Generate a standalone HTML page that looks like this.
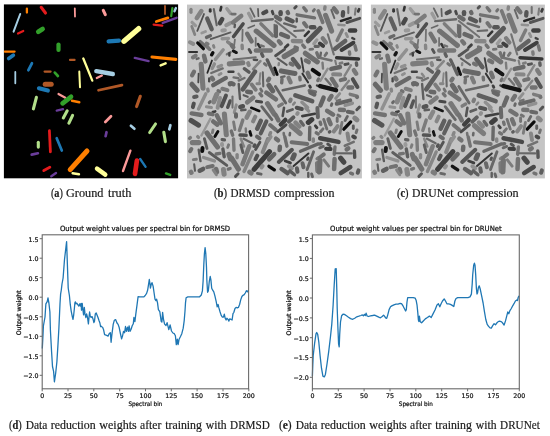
<!DOCTYPE html><html><head><meta charset="utf-8"><style>
html,body{margin:0;padding:0;background:#fff;width:550px;height:436px;overflow:hidden}
svg{display:block}
.cap{font-family:"Liberation Serif",serif;font-size:11.5px;fill:#1a1a1a;stroke:#1a1a1a;stroke-width:0.18px}
.mpl{font-family:"DejaVu Sans","Liberation Sans",sans-serif;fill:#111;stroke:#111;stroke-width:0.22px}
</style></head><body>
<svg width="550" height="436" viewBox="0 0 550 436">
<defs><filter id="bl" x="-5%" y="-5%" width="110%" height="110%"><feGaussianBlur stdDeviation="0.3"/></filter></defs>
<rect x="3.9" y="4.4" width="174.2" height="173.9" fill="#000"/>
<clipPath id="ca"><rect x="3.9" y="4.4" width="174.2" height="173.9"/></clipPath>
<g clip-path="url(#ca)"><g stroke-linecap="round" fill="none" filter="url(#bl)">
<line x1="26.9" y1="8.7" x2="26.9" y2="12.6" stroke="#ff7f00" stroke-width="2.3"/>
<line x1="41.2" y1="7.3" x2="45.5" y2="13" stroke="#e31a1c" stroke-width="3.1"/>
<line x1="20.2" y1="14" x2="13.6" y2="31.7" stroke="#a6cee3" stroke-width="2"/>
<line x1="18" y1="33.5" x2="23.3" y2="30.9" stroke="#e31a1c" stroke-width="2.2"/>
<line x1="38.3" y1="31.7" x2="42.6" y2="29" stroke="#33a02c" stroke-width="4.7"/>
<line x1="58.5" y1="44.6" x2="58.5" y2="49.9" stroke="#33a02c" stroke-width="4.2"/>
<line x1="4.7" y1="51.6" x2="14.6" y2="51.6" stroke="#ff7f00" stroke-width="2.2"/>
<line x1="8.7" y1="58.5" x2="13.3" y2="55.2" stroke="#1f78b4" stroke-width="3.7"/>
<line x1="74.8" y1="8.3" x2="75" y2="16.6" stroke="#fb9a99" stroke-width="1.8"/>
<line x1="103.3" y1="10.4" x2="105.3" y2="14.6" stroke="#fb9a99" stroke-width="3.1"/>
<line x1="108.6" y1="41.4" x2="119" y2="40.7" stroke="#1f78b4" stroke-width="4.2"/>
<line x1="70" y1="59.9" x2="74.6" y2="59.9" stroke="#b15928" stroke-width="2.1"/>
<line x1="124" y1="41.2" x2="138.6" y2="28.7" stroke="#ffff99" stroke-width="5.4"/>
<line x1="165" y1="6" x2="165" y2="14" stroke="#b15928" stroke-width="1.8"/>
<line x1="172.4" y1="8" x2="171.2" y2="16.2" stroke="#33a02c" stroke-width="2.2"/>
<line x1="175.9" y1="8" x2="174.5" y2="11.3" stroke="#a6cee3" stroke-width="2.4"/>
<line x1="156.3" y1="21.5" x2="167.9" y2="17.9" stroke="#ff7f00" stroke-width="2.8"/>
<line x1="162.8" y1="22.8" x2="176.5" y2="17.8" stroke="#6a3d9a" stroke-width="2.5"/>
<line x1="153.6" y1="24.7" x2="162.3" y2="25.7" stroke="#e31a1c" stroke-width="2.2"/>
<line x1="134.8" y1="57.9" x2="148.6" y2="61.1" stroke="#6a3d9a" stroke-width="2.4"/>
<line x1="152" y1="57" x2="175.8" y2="59.4" stroke="#ff7f00" stroke-width="3.1"/>
<line x1="31.9" y1="63.3" x2="28.4" y2="70.2" stroke="#1f78b4" stroke-width="2.8"/>
<line x1="15.3" y1="72" x2="15.3" y2="83.3" stroke="#a6cee3" stroke-width="1.8"/>
<line x1="44.6" y1="71.6" x2="50.6" y2="71.6" stroke="#b15928" stroke-width="2.2"/>
<line x1="54.8" y1="72.6" x2="57.9" y2="76" stroke="#33a02c" stroke-width="2.7"/>
<line x1="45.2" y1="84.3" x2="51.2" y2="84.3" stroke="#b15928" stroke-width="5"/>
<line x1="38.9" y1="88.3" x2="47.9" y2="90.6" stroke="#1f78b4" stroke-width="4.1"/>
<line x1="36.4" y1="97.3" x2="33.4" y2="108.8" stroke="#b2df8a" stroke-width="3.1"/>
<line x1="58.5" y1="94" x2="65.3" y2="97.7" stroke="#fb9a99" stroke-width="2.2"/>
<line x1="62.6" y1="103.3" x2="71" y2="96.8" stroke="#33a02c" stroke-width="4.7"/>
<line x1="72" y1="100.8" x2="79.3" y2="102.2" stroke="#ff7f00" stroke-width="2.4"/>
<line x1="56.7" y1="110.6" x2="63" y2="109.2" stroke="#6a3d9a" stroke-width="2.3"/>
<line x1="83.3" y1="58.5" x2="92.3" y2="80.6" stroke="#ffff99" stroke-width="2.3"/>
<line x1="79.3" y1="71.6" x2="80" y2="87.3" stroke="#ffff99" stroke-width="2"/>
<line x1="96.3" y1="71.1" x2="112.8" y2="74" stroke="#a6cee3" stroke-width="4.4"/>
<line x1="96.8" y1="78" x2="101.9" y2="75.6" stroke="#fb9a99" stroke-width="2.2"/>
<line x1="98.5" y1="90.3" x2="122" y2="85.1" stroke="#b15928" stroke-width="2.7"/>
<line x1="67.2" y1="110.8" x2="63.3" y2="117.9" stroke="#b2df8a" stroke-width="3.1"/>
<line x1="72.6" y1="115.4" x2="68.9" y2="123.2" stroke="#b2df8a" stroke-width="3.1"/>
<line x1="111" y1="116.2" x2="105.3" y2="122" stroke="#fb9a99" stroke-width="2.7"/>
<line x1="160.6" y1="65.4" x2="165.6" y2="63.4" stroke="#ffff99" stroke-width="2.5"/>
<line x1="140.3" y1="96.3" x2="136.6" y2="106.6" stroke="#b15928" stroke-width="3.1"/>
<line x1="49.4" y1="130.6" x2="50.4" y2="151.9" stroke="#e31a1c" stroke-width="2.8"/>
<line x1="56.7" y1="138.2" x2="61.8" y2="150.6" stroke="#1f78b4" stroke-width="2.7"/>
<line x1="38.3" y1="142.2" x2="38.3" y2="147.1" stroke="#b2df8a" stroke-width="3.1"/>
<line x1="31.7" y1="154.6" x2="37.9" y2="153.3" stroke="#6a3d9a" stroke-width="2.7"/>
<line x1="43.8" y1="170.5" x2="49.8" y2="167.3" stroke="#e31a1c" stroke-width="2.9"/>
<line x1="51.3" y1="176.3" x2="56" y2="173" stroke="#6a3d9a" stroke-width="2.4"/>
<line x1="106.5" y1="132.2" x2="105.6" y2="136.2" stroke="#6a3d9a" stroke-width="2.7"/>
<line x1="87" y1="151" x2="70.2" y2="169.7" stroke="#ff7f00" stroke-width="5"/>
<line x1="72.6" y1="173.3" x2="79" y2="174.3" stroke="#ffff99" stroke-width="2.4"/>
<line x1="97" y1="168.6" x2="105.3" y2="174.6" stroke="#ffff99" stroke-width="4.4"/>
<line x1="130.9" y1="125.8" x2="134.4" y2="128.7" stroke="#a6cee3" stroke-width="2.7"/>
<line x1="155.5" y1="124" x2="149.7" y2="132.5" stroke="#b2df8a" stroke-width="3.1"/>
<line x1="170.4" y1="125.2" x2="169.3" y2="129.3" stroke="#a6cee3" stroke-width="2.7"/>
<line x1="163.8" y1="132.2" x2="165.4" y2="141.6" stroke="#b2df8a" stroke-width="3.1"/>
<line x1="130.4" y1="150.7" x2="123" y2="171" stroke="#fb9a99" stroke-width="2.4"/>
<line x1="136.9" y1="160.5" x2="135" y2="173.8" stroke="#e31a1c" stroke-width="4.7"/>
<line x1="140.2" y1="159" x2="145.6" y2="166.8" stroke="#1f78b4" stroke-width="2.3"/>
<line x1="166" y1="173.4" x2="170.2" y2="174.9" stroke="#33a02c" stroke-width="2.4"/>
</g></g>
<clipPath id="cb"><rect x="187" y="4.6" width="174.9" height="173.8"/></clipPath>
<rect x="187" y="4.6" width="174.9" height="173.8" fill="#c4c4c4"/>
<g clip-path="url(#cb)"><g stroke-linecap="round" fill="none" filter="url(#bl)">
<line x1="191" y1="9.3" x2="191" y2="12.3" stroke="#828282" stroke-width="3.2"/>
<line x1="201.4" y1="11.1" x2="196.8" y2="18.1" stroke="#828282" stroke-width="4.5"/>
<line x1="204" y1="14" x2="197.3" y2="30.8" stroke="#505050" stroke-width="1.8"/>
<line x1="207.2" y1="18.6" x2="211.7" y2="29.2" stroke="#5a5a5a" stroke-width="4.3"/>
<line x1="210.2" y1="9.8" x2="210.2" y2="11.3" stroke="#323232" stroke-width="2.9"/>
<line x1="213.8" y1="9" x2="216.7" y2="25.2" stroke="#646464" stroke-width="2.1"/>
<line x1="221.2" y1="7.1" x2="220.4" y2="10.5" stroke="#323232" stroke-width="2.6"/>
<line x1="222.2" y1="19.1" x2="219.9" y2="23.2" stroke="#464646" stroke-width="4.5"/>
<line x1="226.9" y1="8.7" x2="230.5" y2="13.4" stroke="#969696" stroke-width="3.4"/>
<line x1="226.2" y1="25.2" x2="230.1" y2="23.2" stroke="#919191" stroke-width="4"/>
<line x1="192.1" y1="22.3" x2="195.5" y2="25.6" stroke="#969696" stroke-width="3.2"/>
<line x1="191.8" y1="26.4" x2="194.8" y2="34.6" stroke="#828282" stroke-width="2.8"/>
<line x1="201.8" y1="33" x2="205.5" y2="31.5" stroke="#969696" stroke-width="2.9"/>
<line x1="206.5" y1="37.4" x2="210.4" y2="35.7" stroke="#646464" stroke-width="3.4"/>
<line x1="210.6" y1="39.2" x2="230.6" y2="32.4" stroke="#5a5a5a" stroke-width="1.8"/>
<line x1="222.3" y1="30.5" x2="224.9" y2="30.2" stroke="#969696" stroke-width="4"/>
<line x1="222.2" y1="38.7" x2="228.5" y2="38.4" stroke="#919191" stroke-width="3.4"/>
<line x1="189.9" y1="42.3" x2="193.2" y2="43.9" stroke="#8c8c8c" stroke-width="4"/>
<line x1="200.2" y1="41.3" x2="209.9" y2="49.5" stroke="#6e6e6e" stroke-width="2.9"/>
<line x1="197.7" y1="42.9" x2="203.4" y2="48.7" stroke="#0a0a0a" stroke-width="3.2"/>
<line x1="206.5" y1="43.3" x2="207.9" y2="44" stroke="#787878" stroke-width="3.4"/>
<line x1="213.4" y1="45.6" x2="214" y2="47.3" stroke="#828282" stroke-width="2.9"/>
<line x1="227.6" y1="41.8" x2="230.3" y2="43.9" stroke="#828282" stroke-width="3.4"/>
<line x1="231.8" y1="14.1" x2="235.2" y2="14.1" stroke="#6e6e6e" stroke-width="2.9"/>
<line x1="241.2" y1="15.9" x2="232.9" y2="22.4" stroke="#787878" stroke-width="4.5"/>
<line x1="243.1" y1="23.9" x2="233.5" y2="36.6" stroke="#4b4b4b" stroke-width="3.4"/>
<line x1="234.9" y1="24.8" x2="234.6" y2="27.1" stroke="#5a5a5a" stroke-width="2.4"/>
<line x1="250.4" y1="8.4" x2="254.5" y2="16.7" stroke="#646464" stroke-width="1.9"/>
<line x1="248.6" y1="13.4" x2="251.3" y2="18.3" stroke="#969696" stroke-width="3.4"/>
<line x1="258" y1="8.9" x2="258.4" y2="16.2" stroke="#5a5a5a" stroke-width="1.7"/>
<line x1="263.3" y1="13.1" x2="266.3" y2="11.6" stroke="#4b4b4b" stroke-width="4.3"/>
<line x1="272.2" y1="11.3" x2="273.1" y2="13.9" stroke="#464646" stroke-width="2.9"/>
<line x1="251.8" y1="21.1" x2="272.8" y2="19.2" stroke="#646464" stroke-width="2.4"/>
<line x1="248.1" y1="28" x2="254.3" y2="25.4" stroke="#646464" stroke-width="1.6"/>
<line x1="260.9" y1="23.8" x2="272.8" y2="35.7" stroke="#787878" stroke-width="3.4"/>
<line x1="256.2" y1="31.1" x2="274" y2="45.5" stroke="#6e6e6e" stroke-width="5.1"/>
<line x1="247.2" y1="33.8" x2="251.6" y2="41.3" stroke="#6e6e6e" stroke-width="4.5"/>
<line x1="242.6" y1="29.6" x2="242.3" y2="40.9" stroke="#6e6e6e" stroke-width="1.8"/>
<line x1="255.7" y1="37.8" x2="255.7" y2="45.9" stroke="#6e6e6e" stroke-width="1.8"/>
<line x1="234.9" y1="39.7" x2="234.1" y2="46" stroke="#6e6e6e" stroke-width="1.8"/>
<line x1="231.8" y1="45.3" x2="233.2" y2="47.1" stroke="#6e6e6e" stroke-width="4.5"/>
<line x1="242.1" y1="45.3" x2="242.3" y2="48.6" stroke="#828282" stroke-width="3.4"/>
<line x1="258" y1="44" x2="260" y2="47.4" stroke="#323232" stroke-width="2.6"/>
<line x1="260.9" y1="45.5" x2="263.7" y2="46.3" stroke="#6e6e6e" stroke-width="2.4"/>
<line x1="274.4" y1="24.6" x2="274.4" y2="32.8" stroke="#6e6e6e" stroke-width="1.8"/>
<line x1="296.2" y1="6.5" x2="294.7" y2="8" stroke="#505050" stroke-width="2.9"/>
<line x1="303.8" y1="7.7" x2="306.3" y2="10.9" stroke="#6e6e6e" stroke-width="3.4"/>
<line x1="314.4" y1="9.6" x2="313.3" y2="11" stroke="#6e6e6e" stroke-width="2.9"/>
<line x1="280.6" y1="12.3" x2="280.6" y2="13.9" stroke="#505050" stroke-width="4.5"/>
<line x1="287.6" y1="12.1" x2="288.1" y2="13.1" stroke="#646464" stroke-width="4.3"/>
<line x1="276" y1="16.8" x2="280.1" y2="19.4" stroke="#646464" stroke-width="4.5"/>
<line x1="286.7" y1="18.6" x2="292.6" y2="21.2" stroke="#555555" stroke-width="4.5"/>
<line x1="297.1" y1="14.8" x2="314.5" y2="17.9" stroke="#6e6e6e" stroke-width="3.4"/>
<line x1="296.7" y1="18.7" x2="296.7" y2="21.6" stroke="#505050" stroke-width="2.4"/>
<line x1="284.2" y1="23.4" x2="295.6" y2="27" stroke="#646464" stroke-width="2.4"/>
<line x1="275.4" y1="21" x2="295.8" y2="37" stroke="#6e6e6e" stroke-width="2.1"/>
<line x1="276" y1="26.2" x2="276" y2="36.2" stroke="#646464" stroke-width="4"/>
<line x1="304" y1="23" x2="306.6" y2="26.4" stroke="#6e6e6e" stroke-width="4"/>
<line x1="311" y1="27.2" x2="314.2" y2="27.2" stroke="#505050" stroke-width="4.5"/>
<line x1="294.2" y1="31" x2="303.8" y2="30.4" stroke="#646464" stroke-width="2.1"/>
<line x1="308.8" y1="31.7" x2="304.8" y2="35.8" stroke="#323232" stroke-width="2.6"/>
<line x1="320.1" y1="28.5" x2="308.2" y2="40.8" stroke="#555555" stroke-width="5.1"/>
<line x1="281.1" y1="34.2" x2="288" y2="36.9" stroke="#646464" stroke-width="4.5"/>
<line x1="278.8" y1="41.2" x2="280.8" y2="43.5" stroke="#6e6e6e" stroke-width="4.3"/>
<line x1="292.9" y1="40.9" x2="301" y2="41.2" stroke="#828282" stroke-width="4.5"/>
<line x1="288" y1="44.9" x2="285.2" y2="47.5" stroke="#3c3c3c" stroke-width="2.9"/>
<line x1="295.1" y1="47.1" x2="297.3" y2="47.8" stroke="#6e6e6e" stroke-width="3.4"/>
<line x1="316.8" y1="40" x2="313.9" y2="43.7" stroke="#969696" stroke-width="3.4"/>
<line x1="315.3" y1="46.4" x2="318.1" y2="46.4" stroke="#646464" stroke-width="3.4"/>
<line x1="302.8" y1="45.1" x2="304.7" y2="47.3" stroke="#6e6e6e" stroke-width="3.4"/>
<line x1="325" y1="6.9" x2="324.7" y2="9.2" stroke="#828282" stroke-width="3.4"/>
<line x1="333.9" y1="8.4" x2="336.9" y2="12.2" stroke="#6e6e6e" stroke-width="4.5"/>
<line x1="331.3" y1="9.9" x2="334.4" y2="18.2" stroke="#646464" stroke-width="1.9"/>
<line x1="343.1" y1="12.2" x2="342.8" y2="15.5" stroke="#505050" stroke-width="4.3"/>
<line x1="348.3" y1="7" x2="348.3" y2="13.1" stroke="#6e6e6e" stroke-width="2.1"/>
<line x1="355.7" y1="8.5" x2="354.9" y2="14.6" stroke="#787878" stroke-width="2.1"/>
<line x1="359.1" y1="9.2" x2="358.2" y2="11.4" stroke="#3c3c3c" stroke-width="2.8"/>
<line x1="325.6" y1="15.4" x2="331.6" y2="31" stroke="#737373" stroke-width="5.1"/>
<line x1="318.2" y1="10.9" x2="322.7" y2="22.3" stroke="#737373" stroke-width="3.7"/>
<line x1="340.8" y1="21" x2="350.7" y2="17.8" stroke="#282828" stroke-width="2.4"/>
<line x1="346.9" y1="22.5" x2="359.7" y2="18.3" stroke="#505050" stroke-width="2.9"/>
<line x1="338.3" y1="24.7" x2="344.6" y2="25.2" stroke="#8c8c8c" stroke-width="2.4"/>
<line x1="350" y1="30.4" x2="355.1" y2="30.4" stroke="#3c3c3c" stroke-width="4.5"/>
<line x1="342.3" y1="30" x2="337.1" y2="40.5" stroke="#787878" stroke-width="3.4"/>
<line x1="327.8" y1="34.3" x2="333.8" y2="54.5" stroke="#6e6e6e" stroke-width="2.1"/>
<line x1="322.7" y1="38.2" x2="325.9" y2="42.5" stroke="#787878" stroke-width="4.3"/>
<line x1="346" y1="33.5" x2="347.5" y2="36.6" stroke="#8c8c8c" stroke-width="2.9"/>
<line x1="352.3" y1="38.1" x2="354.3" y2="39" stroke="#3c3c3c" stroke-width="2.4"/>
<line x1="345.2" y1="41" x2="335.1" y2="48.8" stroke="#5f5f5f" stroke-width="4.5"/>
<line x1="353.4" y1="42.8" x2="341.6" y2="50" stroke="#3c3c3c" stroke-width="4"/>
<line x1="319.9" y1="43.5" x2="323.1" y2="45.8" stroke="#3c3c3c" stroke-width="4"/>
<line x1="355" y1="45.8" x2="356.1" y2="50.1" stroke="#6e6e6e" stroke-width="3.4"/>
<line x1="189" y1="52" x2="197.1" y2="52" stroke="#323232" stroke-width="1.9"/>
<line x1="192.9" y1="57.5" x2="195.7" y2="55.7" stroke="#787878" stroke-width="4"/>
<line x1="196.7" y1="58.9" x2="198.5" y2="58.3" stroke="#646464" stroke-width="2.4"/>
<line x1="212.8" y1="52.8" x2="211.6" y2="54.8" stroke="#0f0f0f" stroke-width="3.4"/>
<line x1="207.5" y1="46.7" x2="209.5" y2="49.3" stroke="#787878" stroke-width="3.4"/>
<line x1="204" y1="55.8" x2="205.4" y2="61.4" stroke="#6e6e6e" stroke-width="4.5"/>
<line x1="223.2" y1="49.7" x2="215.4" y2="59.4" stroke="#8c8c8c" stroke-width="3.4"/>
<line x1="212" y1="60.5" x2="207.4" y2="72.8" stroke="#282828" stroke-width="1.8"/>
<line x1="201.2" y1="64.4" x2="203" y2="88.1" stroke="#787878" stroke-width="5.1"/>
<line x1="194" y1="71.7" x2="192.1" y2="75.3" stroke="#6e6e6e" stroke-width="4.3"/>
<line x1="198.6" y1="73.6" x2="198.3" y2="82.4" stroke="#464646" stroke-width="1.8"/>
<line x1="214.4" y1="63.9" x2="212.1" y2="68.4" stroke="#8c8c8c" stroke-width="3.4"/>
<line x1="221.5" y1="65.5" x2="218.1" y2="66.9" stroke="#8c8c8c" stroke-width="3.4"/>
<line x1="211.3" y1="73" x2="222.7" y2="68.4" stroke="#6e6e6e" stroke-width="2.4"/>
<line x1="219" y1="74.8" x2="221.1" y2="73.6" stroke="#8c8c8c" stroke-width="2.9"/>
<line x1="209.2" y1="78.4" x2="209.2" y2="81.2" stroke="#464646" stroke-width="2.4"/>
<line x1="211.9" y1="77.8" x2="213" y2="79.3" stroke="#6e6e6e" stroke-width="4.5"/>
<line x1="213.2" y1="85.2" x2="225.9" y2="77.9" stroke="#646464" stroke-width="4.3"/>
<line x1="191.9" y1="84.3" x2="197.2" y2="90.4" stroke="#646464" stroke-width="5.1"/>
<line x1="226.9" y1="54.3" x2="230.5" y2="52.3" stroke="#6e6e6e" stroke-width="2.4"/>
<line x1="229.4" y1="53.1" x2="229.4" y2="55.5" stroke="#3c3c3c" stroke-width="2.4"/>
<line x1="229.8" y1="83.4" x2="230" y2="84.2" stroke="#646464" stroke-width="4.5"/>
<line x1="222.3" y1="88.7" x2="227.4" y2="90.1" stroke="#787878" stroke-width="4"/>
<line x1="207.8" y1="89.3" x2="208.1" y2="91.1" stroke="#828282" stroke-width="3.4"/>
<line x1="218.1" y1="90.8" x2="219.5" y2="91.6" stroke="#6e6e6e" stroke-width="3.4"/>
<line x1="233.2" y1="50.9" x2="236.4" y2="52.6" stroke="#141414" stroke-width="2.9"/>
<line x1="249.1" y1="49.6" x2="250.8" y2="52.4" stroke="#505050" stroke-width="2.9"/>
<line x1="255.9" y1="50.5" x2="270.7" y2="50.5" stroke="#737373" stroke-width="4.5"/>
<line x1="261.7" y1="53.8" x2="262.9" y2="56.3" stroke="#5a5a5a" stroke-width="3.4"/>
<line x1="233.5" y1="59.5" x2="255.7" y2="57.2" stroke="#6e6e6e" stroke-width="2.1"/>
<line x1="253.8" y1="59.7" x2="257.1" y2="60" stroke="#505050" stroke-width="2.4"/>
<line x1="229.3" y1="63.9" x2="242.8" y2="62.7" stroke="#787878" stroke-width="5.1"/>
<line x1="248.1" y1="63.1" x2="248.8" y2="65.2" stroke="#828282" stroke-width="4"/>
<line x1="260.4" y1="61.1" x2="253.1" y2="69.2" stroke="#828282" stroke-width="2.6"/>
<line x1="267.2" y1="59.9" x2="274" y2="74.4" stroke="#5a5a5a" stroke-width="3.4"/>
<line x1="264.4" y1="63.6" x2="266.2" y2="65.2" stroke="#6e6e6e" stroke-width="2.9"/>
<line x1="244.3" y1="68.7" x2="249" y2="72.2" stroke="#5a5a5a" stroke-width="3.4"/>
<line x1="228.5" y1="71.7" x2="233.4" y2="71.7" stroke="#3c3c3c" stroke-width="2.4"/>
<line x1="255" y1="71.7" x2="242.8" y2="89.4" stroke="#5a5a5a" stroke-width="4.5"/>
<line x1="238.5" y1="73.7" x2="240.7" y2="76.8" stroke="#828282" stroke-width="2.4"/>
<line x1="233.6" y1="77.4" x2="238.5" y2="78.2" stroke="#6e6e6e" stroke-width="2.4"/>
<line x1="238.7" y1="80.6" x2="244.5" y2="78" stroke="#6e6e6e" stroke-width="2.4"/>
<line x1="262.8" y1="72.2" x2="263.3" y2="86.4" stroke="#646464" stroke-width="2.1"/>
<line x1="260.3" y1="73.2" x2="259.3" y2="83.3" stroke="#828282" stroke-width="1.9"/>
<line x1="269.2" y1="78.7" x2="268" y2="80.4" stroke="#6e6e6e" stroke-width="4.3"/>
<line x1="232" y1="83.4" x2="233.5" y2="84.2" stroke="#646464" stroke-width="4.5"/>
<line x1="238.7" y1="83.9" x2="240" y2="99" stroke="#5a5a5a" stroke-width="2.4"/>
<line x1="251.8" y1="84.6" x2="255.6" y2="89.6" stroke="#787878" stroke-width="4"/>
<line x1="256.9" y1="83.8" x2="259.6" y2="83.8" stroke="#828282" stroke-width="2.9"/>
<line x1="269" y1="85.4" x2="272.7" y2="90.9" stroke="#646464" stroke-width="5.1"/>
<line x1="274.7" y1="67.9" x2="277.2" y2="74.5" stroke="#0f0f0f" stroke-width="2.9"/>
<line x1="260.7" y1="89.1" x2="261.9" y2="91.3" stroke="#6e6e6e" stroke-width="2.9"/>
<line x1="275.6" y1="55.7" x2="284.5" y2="49.4" stroke="#505050" stroke-width="2.9"/>
<line x1="284.4" y1="56.4" x2="295.9" y2="49.7" stroke="#6e6e6e" stroke-width="5.6"/>
<line x1="277.4" y1="58.4" x2="286.7" y2="64.9" stroke="#5a5a5a" stroke-width="1.9"/>
<line x1="292.9" y1="59.1" x2="299" y2="67.2" stroke="#5a5a5a" stroke-width="4.5"/>
<line x1="290.5" y1="63.6" x2="292.8" y2="64.7" stroke="#6e6e6e" stroke-width="4"/>
<line x1="278.9" y1="63.2" x2="278.6" y2="65.1" stroke="#828282" stroke-width="2.4"/>
<line x1="301.3" y1="58.1" x2="303.7" y2="71.7" stroke="#3c3c3c" stroke-width="1.9"/>
<line x1="305.4" y1="53.3" x2="317.3" y2="61.8" stroke="#6e6e6e" stroke-width="5.1"/>
<line x1="305.9" y1="60.6" x2="308.7" y2="62.1" stroke="#6e6e6e" stroke-width="4.5"/>
<line x1="316.8" y1="52.8" x2="318.6" y2="57.3" stroke="#6e6e6e" stroke-width="3.4"/>
<line x1="310" y1="49.4" x2="312.6" y2="49.1" stroke="#6e6e6e" stroke-width="2.9"/>
<line x1="312.7" y1="69.8" x2="319.1" y2="74.4" stroke="#0f0f0f" stroke-width="4"/>
<line x1="281.3" y1="70.9" x2="294.9" y2="73.5" stroke="#646464" stroke-width="5.1"/>
<line x1="307.7" y1="72.8" x2="309.4" y2="77.2" stroke="#6e6e6e" stroke-width="4.5"/>
<line x1="302.5" y1="73.7" x2="308" y2="82.3" stroke="#323232" stroke-width="2.1"/>
<line x1="281.2" y1="77.2" x2="284.5" y2="76.4" stroke="#646464" stroke-width="2.4"/>
<line x1="288.6" y1="77.8" x2="290.6" y2="82.3" stroke="#787878" stroke-width="4.3"/>
<line x1="299.8" y1="77.2" x2="300.1" y2="79.9" stroke="#6e6e6e" stroke-width="3.4"/>
<line x1="282" y1="79.2" x2="281.7" y2="82.9" stroke="#6e6e6e" stroke-width="3.4"/>
<line x1="282.7" y1="90.3" x2="304.7" y2="85.4" stroke="#646464" stroke-width="2.6"/>
<line x1="309.7" y1="85.9" x2="310.4" y2="87.3" stroke="#3c3c3c" stroke-width="2.9"/>
<line x1="317.8" y1="80.5" x2="318.6" y2="79.1" stroke="#6e6e6e" stroke-width="3.4"/>
<line x1="309.2" y1="90.6" x2="315.5" y2="91.8" stroke="#6e6e6e" stroke-width="3.4"/>
<line x1="317" y1="85.5" x2="318.4" y2="86.1" stroke="#3c3c3c" stroke-width="2.4"/>
<line x1="349.4" y1="51.9" x2="349.7" y2="54.2" stroke="#787878" stroke-width="3.4"/>
<line x1="320.9" y1="52.6" x2="320.1" y2="57.5" stroke="#646464" stroke-width="2.4"/>
<line x1="326.7" y1="53.1" x2="325" y2="55.5" stroke="#6e6e6e" stroke-width="2.9"/>
<line x1="336.6" y1="57.7" x2="358.5" y2="59" stroke="#323232" stroke-width="3.4"/>
<line x1="319.6" y1="57.7" x2="331.5" y2="60.5" stroke="#6e6e6e" stroke-width="2.6"/>
<line x1="335.2" y1="60.6" x2="336.1" y2="64.2" stroke="#787878" stroke-width="2.1"/>
<line x1="339.9" y1="63.4" x2="342" y2="62.8" stroke="#787878" stroke-width="2.9"/>
<line x1="344.9" y1="64.5" x2="348.1" y2="63.8" stroke="#505050" stroke-width="2.9"/>
<line x1="356.4" y1="63" x2="356.7" y2="65.3" stroke="#5a5a5a" stroke-width="3.4"/>
<line x1="322.5" y1="62.7" x2="323" y2="68.6" stroke="#787878" stroke-width="2.4"/>
<line x1="331.3" y1="68.9" x2="340" y2="67" stroke="#646464" stroke-width="4.5"/>
<line x1="351" y1="65.2" x2="344.5" y2="75.8" stroke="#828282" stroke-width="2.4"/>
<line x1="353.9" y1="70.2" x2="356.2" y2="73.7" stroke="#787878" stroke-width="4.5"/>
<line x1="327.8" y1="68.7" x2="320.3" y2="80.8" stroke="#8c8c8c" stroke-width="2.4"/>
<line x1="333.1" y1="74.3" x2="340.2" y2="74.6" stroke="#828282" stroke-width="4"/>
<line x1="325.5" y1="78.8" x2="330.7" y2="84.8" stroke="#6e6e6e" stroke-width="2.4"/>
<line x1="331.8" y1="78.8" x2="336.5" y2="85.9" stroke="#6e6e6e" stroke-width="4.5"/>
<line x1="340.7" y1="80.1" x2="345.2" y2="79" stroke="#6e6e6e" stroke-width="4"/>
<line x1="348.9" y1="80.8" x2="341.6" y2="89.9" stroke="#828282" stroke-width="2.4"/>
<line x1="352.8" y1="79.2" x2="357.4" y2="87" stroke="#505050" stroke-width="4"/>
<line x1="320.2" y1="86.1" x2="336" y2="90.1" stroke="#141414" stroke-width="4.5"/>
<line x1="348.5" y1="87.4" x2="352.1" y2="87.4" stroke="#6e6e6e" stroke-width="4.5"/>
<line x1="194.1" y1="96.9" x2="196.6" y2="96.6" stroke="#5a5a5a" stroke-width="4"/>
<line x1="205.8" y1="93.8" x2="198.5" y2="108.9" stroke="#8c8c8c" stroke-width="3.4"/>
<line x1="209.2" y1="102.6" x2="210.2" y2="101.6" stroke="#646464" stroke-width="2.9"/>
<line x1="216.8" y1="94.3" x2="213.7" y2="101.8" stroke="#828282" stroke-width="5.1"/>
<line x1="220" y1="98" x2="217.6" y2="107.7" stroke="#8c8c8c" stroke-width="4"/>
<line x1="226" y1="95.5" x2="221.7" y2="106.1" stroke="#505050" stroke-width="4"/>
<line x1="230.1" y1="100.9" x2="227.7" y2="107.3" stroke="#505050" stroke-width="3.4"/>
<line x1="193.8" y1="103.6" x2="192.9" y2="107.1" stroke="#505050" stroke-width="4"/>
<line x1="206.4" y1="106.7" x2="211.5" y2="107.5" stroke="#8c8c8c" stroke-width="2.9"/>
<line x1="191.7" y1="113.4" x2="201.4" y2="115" stroke="#6e6e6e" stroke-width="4.5"/>
<line x1="212.8" y1="112" x2="215.2" y2="111.4" stroke="#3c3c3c" stroke-width="2.6"/>
<line x1="208.7" y1="113.5" x2="212.7" y2="114.4" stroke="#6e6e6e" stroke-width="4"/>
<line x1="224.4" y1="114" x2="226.3" y2="134.7" stroke="#787878" stroke-width="5.1"/>
<line x1="216.8" y1="115.3" x2="220.8" y2="123.2" stroke="#6e6e6e" stroke-width="4.5"/>
<line x1="191.1" y1="120.5" x2="198.5" y2="125.1" stroke="#505050" stroke-width="5.1"/>
<line x1="210.4" y1="118.7" x2="201.4" y2="135.5" stroke="#969696" stroke-width="2.4"/>
<line x1="213.2" y1="121.5" x2="217.3" y2="124.6" stroke="#6e6e6e" stroke-width="4.5"/>
<line x1="217.9" y1="131.5" x2="214.9" y2="136.4" stroke="#0a0a0a" stroke-width="2.9"/>
<line x1="207" y1="133" x2="217.5" y2="147" stroke="#6e6e6e" stroke-width="5.1"/>
<line x1="213" y1="130" x2="212.4" y2="132.7" stroke="#787878" stroke-width="2.9"/>
<line x1="232.5" y1="96.5" x2="232.5" y2="107.6" stroke="#6e6e6e" stroke-width="2.1"/>
<line x1="247.2" y1="91.7" x2="250.8" y2="92.3" stroke="#646464" stroke-width="4.5"/>
<line x1="243.6" y1="95.2" x2="247.7" y2="96.8" stroke="#5a5a5a" stroke-width="2.1"/>
<line x1="253.2" y1="97.7" x2="247.1" y2="102.4" stroke="#787878" stroke-width="4.5"/>
<line x1="256.4" y1="101.2" x2="261.6" y2="102" stroke="#464646" stroke-width="2.9"/>
<line x1="259.9" y1="93.7" x2="261.7" y2="95.8" stroke="#6e6e6e" stroke-width="3.4"/>
<line x1="266.3" y1="92.7" x2="276" y2="99.3" stroke="#6e6e6e" stroke-width="4.5"/>
<line x1="240.3" y1="106.9" x2="242.9" y2="106.3" stroke="#505050" stroke-width="4.5"/>
<line x1="241.3" y1="110.1" x2="245.4" y2="109.8" stroke="#5a5a5a" stroke-width="2.6"/>
<line x1="251.3" y1="107.8" x2="259.2" y2="111" stroke="#0f0f0f" stroke-width="2.6"/>
<line x1="267.5" y1="103.7" x2="274.3" y2="114.1" stroke="#737373" stroke-width="5.1"/>
<line x1="261.8" y1="106.7" x2="271.9" y2="119.7" stroke="#646464" stroke-width="2.9"/>
<line x1="236.3" y1="104.8" x2="234.2" y2="112.5" stroke="#8c8c8c" stroke-width="2.9"/>
<line x1="236" y1="114.2" x2="236" y2="116.7" stroke="#646464" stroke-width="4"/>
<line x1="249.7" y1="111.8" x2="246.6" y2="117.6" stroke="#828282" stroke-width="4.5"/>
<line x1="255.3" y1="116.7" x2="253.1" y2="121.3" stroke="#828282" stroke-width="4"/>
<line x1="242.8" y1="120.1" x2="239.4" y2="130.5" stroke="#787878" stroke-width="3.4"/>
<line x1="233.6" y1="122" x2="234.9" y2="129.6" stroke="#787878" stroke-width="2.9"/>
<line x1="260.8" y1="120.9" x2="257.2" y2="128.7" stroke="#5a5a5a" stroke-width="4.5"/>
<line x1="266.4" y1="121.3" x2="260.7" y2="133.4" stroke="#5a5a5a" stroke-width="4"/>
<line x1="270.1" y1="125" x2="275.7" y2="129.8" stroke="#6e6e6e" stroke-width="4"/>
<line x1="249.9" y1="131.6" x2="251" y2="135.3" stroke="#0f0f0f" stroke-width="2.9"/>
<line x1="245.7" y1="128.4" x2="246" y2="131.8" stroke="#787878" stroke-width="2.4"/>
<line x1="240" y1="135" x2="246.2" y2="135.3" stroke="#505050" stroke-width="3.4"/>
<line x1="270.6" y1="132.7" x2="269.6" y2="135.2" stroke="#828282" stroke-width="3.4"/>
<line x1="231.3" y1="131.1" x2="232.7" y2="135.2" stroke="#6e6e6e" stroke-width="3.4"/>
<line x1="275.4" y1="86.6" x2="285.7" y2="103" stroke="#646464" stroke-width="2.9"/>
<line x1="295.3" y1="95.4" x2="312.2" y2="101.2" stroke="#5a5a5a" stroke-width="4.5"/>
<line x1="290.7" y1="99.6" x2="290" y2="101.1" stroke="#787878" stroke-width="4"/>
<line x1="310.4" y1="92.5" x2="314.3" y2="94.5" stroke="#646464" stroke-width="4.5"/>
<line x1="278.8" y1="106.1" x2="282.3" y2="104.1" stroke="#787878" stroke-width="3.4"/>
<line x1="294.8" y1="102.6" x2="293.1" y2="104.6" stroke="#828282" stroke-width="2.4"/>
<line x1="301.9" y1="102.2" x2="307.6" y2="107.5" stroke="#8c8c8c" stroke-width="3.4"/>
<line x1="284" y1="107.8" x2="282.7" y2="116" stroke="#505050" stroke-width="2.6"/>
<line x1="287.3" y1="111.4" x2="292.5" y2="109.5" stroke="#5a5a5a" stroke-width="2.9"/>
<line x1="296.7" y1="107.8" x2="301.8" y2="109" stroke="#505050" stroke-width="4"/>
<line x1="297.7" y1="113.1" x2="297.2" y2="113.8" stroke="#8c8c8c" stroke-width="4"/>
<line x1="305.9" y1="108.2" x2="308.7" y2="111.1" stroke="#8c8c8c" stroke-width="3.4"/>
<line x1="317.4" y1="108.1" x2="317.9" y2="117.2" stroke="#646464" stroke-width="4"/>
<line x1="275.6" y1="115.2" x2="278.4" y2="120.3" stroke="#6e6e6e" stroke-width="4.5"/>
<line x1="302.3" y1="116.1" x2="314.8" y2="113.8" stroke="#3c3c3c" stroke-width="2.6"/>
<line x1="285.3" y1="120" x2="280.8" y2="124.5" stroke="#3c3c3c" stroke-width="4.5"/>
<line x1="293.4" y1="117.4" x2="288.9" y2="121.6" stroke="#5a5a5a" stroke-width="4"/>
<line x1="311.8" y1="119.6" x2="308.3" y2="122.4" stroke="#3c3c3c" stroke-width="5.1"/>
<line x1="300.7" y1="121.5" x2="303.3" y2="125.1" stroke="#646464" stroke-width="3.4"/>
<line x1="295.5" y1="122.6" x2="299.4" y2="126.5" stroke="#828282" stroke-width="4.5"/>
<line x1="291.1" y1="125.7" x2="300.2" y2="133.5" stroke="#787878" stroke-width="5.1"/>
<line x1="286" y1="124.8" x2="277.6" y2="131.9" stroke="#464646" stroke-width="2.9"/>
<line x1="309.8" y1="127.2" x2="309.5" y2="139.6" stroke="#646464" stroke-width="3.4"/>
<line x1="315.4" y1="125.9" x2="316.9" y2="127.7" stroke="#3c3c3c" stroke-width="2.9"/>
<line x1="290" y1="133.1" x2="289.7" y2="135.3" stroke="#646464" stroke-width="2.6"/>
<line x1="283.7" y1="133.1" x2="284" y2="135.3" stroke="#6e6e6e" stroke-width="2.6"/>
<line x1="316.2" y1="132.8" x2="318.2" y2="134" stroke="#6e6e6e" stroke-width="3.4"/>
<line x1="323.6" y1="97.6" x2="320.4" y2="105.5" stroke="#646464" stroke-width="4.5"/>
<line x1="331.5" y1="96" x2="329.2" y2="99.6" stroke="#6e6e6e" stroke-width="4.5"/>
<line x1="339.7" y1="93.6" x2="335.6" y2="98.5" stroke="#8c8c8c" stroke-width="2.9"/>
<line x1="350.2" y1="94.3" x2="357" y2="96.2" stroke="#787878" stroke-width="3.4"/>
<line x1="357" y1="97" x2="357.1" y2="97.1" stroke="#6e6e6e" stroke-width="4"/>
<line x1="336.7" y1="103.8" x2="350.3" y2="100.4" stroke="#646464" stroke-width="4"/>
<line x1="345.1" y1="105.4" x2="352.4" y2="103.3" stroke="#8c8c8c" stroke-width="3.4"/>
<line x1="336.8" y1="100.9" x2="340.1" y2="99.8" stroke="#6e6e6e" stroke-width="2.4"/>
<line x1="331.9" y1="103.8" x2="331.3" y2="105.4" stroke="#646464" stroke-width="2.9"/>
<line x1="359.4" y1="107.1" x2="356.8" y2="109.7" stroke="#505050" stroke-width="2.9"/>
<line x1="327.1" y1="110.8" x2="333.1" y2="114.6" stroke="#6e6e6e" stroke-width="4.5"/>
<line x1="339.9" y1="109.8" x2="344" y2="110.1" stroke="#6e6e6e" stroke-width="4.5"/>
<line x1="347.8" y1="111.8" x2="352.8" y2="112.6" stroke="#646464" stroke-width="4"/>
<line x1="337.9" y1="115.1" x2="340" y2="116.3" stroke="#6e6e6e" stroke-width="2.9"/>
<line x1="347.4" y1="116.4" x2="345.1" y2="120.6" stroke="#646464" stroke-width="2.9"/>
<line x1="354.8" y1="118.1" x2="356.9" y2="119.9" stroke="#828282" stroke-width="5.1"/>
<line x1="328.6" y1="119.3" x2="330.6" y2="124.2" stroke="#6e6e6e" stroke-width="4.5"/>
<line x1="323.7" y1="119.4" x2="326.9" y2="129.1" stroke="#6e6e6e" stroke-width="2.9"/>
<line x1="337.2" y1="118" x2="337.2" y2="121.5" stroke="#6e6e6e" stroke-width="2.9"/>
<line x1="350.7" y1="121.9" x2="343.8" y2="129.2" stroke="#0a0a0a" stroke-width="3.2"/>
<line x1="342" y1="122.5" x2="339.9" y2="133.2" stroke="#787878" stroke-width="2.9"/>
<line x1="337.6" y1="126.2" x2="333.7" y2="131.5" stroke="#828282" stroke-width="4"/>
<line x1="320.2" y1="122.2" x2="320.8" y2="124.4" stroke="#6e6e6e" stroke-width="3.4"/>
<line x1="323" y1="128.9" x2="320.5" y2="131.8" stroke="#6e6e6e" stroke-width="2.9"/>
<line x1="353.3" y1="126" x2="353.3" y2="128.6" stroke="#5a5a5a" stroke-width="2.9"/>
<line x1="357" y1="130" x2="356.1" y2="132.7" stroke="#6e6e6e" stroke-width="2.9"/>
<line x1="329.4" y1="132" x2="329.8" y2="131.8" stroke="#5a5a5a" stroke-width="3.4"/>
<line x1="347.5" y1="133.4" x2="348.6" y2="140" stroke="#828282" stroke-width="4"/>
<line x1="190.4" y1="137.6" x2="189.6" y2="138.4" stroke="#787878" stroke-width="3.4"/>
<line x1="192.3" y1="142.6" x2="198.8" y2="142.6" stroke="#787878" stroke-width="5.1"/>
<line x1="197.7" y1="136.6" x2="198.5" y2="137.4" stroke="#828282" stroke-width="3.4"/>
<line x1="202.5" y1="148.1" x2="202.2" y2="151.1" stroke="#0f0f0f" stroke-width="4"/>
<line x1="204.4" y1="138.7" x2="207" y2="148.4" stroke="#5a5a5a" stroke-width="2.9"/>
<line x1="191.4" y1="149" x2="190.1" y2="151.2" stroke="#6e6e6e" stroke-width="4"/>
<line x1="198.7" y1="149.7" x2="200.5" y2="161.1" stroke="#5a5a5a" stroke-width="2.4"/>
<line x1="209.3" y1="152.5" x2="226.8" y2="165.4" stroke="#5a5a5a" stroke-width="2.9"/>
<line x1="203.5" y1="157.5" x2="214.4" y2="160.9" stroke="#8c8c8c" stroke-width="3.4"/>
<line x1="216.2" y1="154" x2="219.9" y2="153.4" stroke="#6e6e6e" stroke-width="3.4"/>
<line x1="222.2" y1="139.6" x2="224.4" y2="139.9" stroke="#5a5a5a" stroke-width="3.4"/>
<line x1="222" y1="144.1" x2="222.1" y2="145.1" stroke="#969696" stroke-width="4"/>
<line x1="222.9" y1="149" x2="224.2" y2="156.8" stroke="#5a5a5a" stroke-width="3.4"/>
<line x1="227.7" y1="147.4" x2="228.6" y2="144.8" stroke="#787878" stroke-width="2.9"/>
<line x1="228.9" y1="154.5" x2="230.5" y2="158.9" stroke="#6e6e6e" stroke-width="5.1"/>
<line x1="193.3" y1="159.6" x2="196.4" y2="159.3" stroke="#787878" stroke-width="2.9"/>
<line x1="194.2" y1="164.3" x2="195" y2="170.8" stroke="#5a5a5a" stroke-width="2.1"/>
<line x1="207.2" y1="167.1" x2="212.7" y2="166" stroke="#6e6e6e" stroke-width="4"/>
<line x1="203.1" y1="168.9" x2="199.7" y2="170.7" stroke="#5a5a5a" stroke-width="4.5"/>
<line x1="191" y1="171.9" x2="191.5" y2="172.7" stroke="#787878" stroke-width="4.5"/>
<line x1="216.1" y1="169" x2="217" y2="172.1" stroke="#6e6e6e" stroke-width="4.5"/>
<line x1="213.1" y1="169.9" x2="216.4" y2="174.8" stroke="#828282" stroke-width="2.9"/>
<line x1="223.5" y1="169.6" x2="224.1" y2="174.1" stroke="#828282" stroke-width="5.1"/>
<line x1="228.3" y1="169.1" x2="230.1" y2="168.5" stroke="#6e6e6e" stroke-width="3.4"/>
<line x1="233.5" y1="138.9" x2="234" y2="150.2" stroke="#787878" stroke-width="3.4"/>
<line x1="240.8" y1="138.6" x2="243.9" y2="146.5" stroke="#828282" stroke-width="2.6"/>
<line x1="243.6" y1="138.8" x2="252.2" y2="143.3" stroke="#646464" stroke-width="2.4"/>
<line x1="240.8" y1="144.8" x2="242.9" y2="152.5" stroke="#5a5a5a" stroke-width="2.9"/>
<line x1="254.8" y1="144.9" x2="254.1" y2="146.3" stroke="#505050" stroke-width="3.4"/>
<line x1="259.9" y1="142.2" x2="255.6" y2="149.5" stroke="#505050" stroke-width="2.9"/>
<line x1="257" y1="136.6" x2="259.5" y2="138.4" stroke="#646464" stroke-width="4"/>
<line x1="267.9" y1="139" x2="262.7" y2="152.2" stroke="#828282" stroke-width="4"/>
<line x1="270.9" y1="136.7" x2="267.8" y2="141.4" stroke="#8c8c8c" stroke-width="3.4"/>
<line x1="249.3" y1="146.2" x2="242.5" y2="164.2" stroke="#787878" stroke-width="4.5"/>
<line x1="252.8" y1="151.9" x2="244" y2="171.5" stroke="#828282" stroke-width="3.4"/>
<line x1="237.1" y1="154.6" x2="237.1" y2="157.8" stroke="#828282" stroke-width="3.4"/>
<line x1="257.3" y1="155.7" x2="255.6" y2="159.2" stroke="#505050" stroke-width="4"/>
<line x1="269.5" y1="151.6" x2="254.1" y2="169.3" stroke="#3c3c3c" stroke-width="5.1"/>
<line x1="274.2" y1="154.1" x2="269.1" y2="159.3" stroke="#646464" stroke-width="4.5"/>
<line x1="231.7" y1="158.3" x2="238.4" y2="169.2" stroke="#6e6e6e" stroke-width="5.1"/>
<line x1="262.6" y1="166.1" x2="261.5" y2="167.5" stroke="#8c8c8c" stroke-width="4"/>
<line x1="269" y1="166.3" x2="274.3" y2="169.8" stroke="#0f0f0f" stroke-width="3.4"/>
<line x1="249.8" y1="172.1" x2="251.1" y2="173" stroke="#787878" stroke-width="5.1"/>
<line x1="257.4" y1="173.4" x2="261.1" y2="174.2" stroke="#646464" stroke-width="2.9"/>
<line x1="238.1" y1="173.8" x2="235.5" y2="176.4" stroke="#505050" stroke-width="2.9"/>
<line x1="276" y1="138.7" x2="278" y2="140.3" stroke="#6e6e6e" stroke-width="4.5"/>
<line x1="284.8" y1="136.9" x2="286.9" y2="146.2" stroke="#6e6e6e" stroke-width="3.4"/>
<line x1="279.9" y1="146.8" x2="279.6" y2="149.9" stroke="#646464" stroke-width="4.5"/>
<line x1="291.6" y1="142.2" x2="307.3" y2="144" stroke="#6e6e6e" stroke-width="4"/>
<line x1="313.3" y1="138.9" x2="313.3" y2="141.2" stroke="#828282" stroke-width="3.4"/>
<line x1="291.9" y1="149.8" x2="278.8" y2="162" stroke="#505050" stroke-width="4"/>
<line x1="300.5" y1="151.3" x2="318.2" y2="143.9" stroke="#646464" stroke-width="3.4"/>
<line x1="294.2" y1="154.9" x2="292.7" y2="158.5" stroke="#5a5a5a" stroke-width="5.1"/>
<line x1="308.4" y1="153.5" x2="293.6" y2="166" stroke="#323232" stroke-width="2.1"/>
<line x1="313.6" y1="151.8" x2="307.1" y2="169.6" stroke="#646464" stroke-width="2.9"/>
<line x1="285.3" y1="161" x2="290.4" y2="162.9" stroke="#3c3c3c" stroke-width="2.9"/>
<line x1="308.1" y1="157.9" x2="307.5" y2="159.5" stroke="#505050" stroke-width="2.9"/>
<line x1="302.5" y1="163.2" x2="303.5" y2="167.3" stroke="#646464" stroke-width="4"/>
<line x1="289" y1="166.4" x2="291.8" y2="168.2" stroke="#8c8c8c" stroke-width="4"/>
<line x1="281.6" y1="169" x2="287.6" y2="173.1" stroke="#5a5a5a" stroke-width="4.5"/>
<line x1="289.8" y1="170.9" x2="294.5" y2="174.8" stroke="#5a5a5a" stroke-width="3.4"/>
<line x1="296.9" y1="168.3" x2="297.5" y2="171.8" stroke="#5a5a5a" stroke-width="4"/>
<line x1="308.3" y1="172.9" x2="308.3" y2="176.8" stroke="#5a5a5a" stroke-width="2.4"/>
<line x1="311.6" y1="174" x2="312.5" y2="176.7" stroke="#646464" stroke-width="2.9"/>
<line x1="317.1" y1="158.7" x2="318.3" y2="157.7" stroke="#787878" stroke-width="3.4"/>
<line x1="317.5" y1="163.5" x2="317.8" y2="171" stroke="#787878" stroke-width="5.1"/>
<line x1="320.2" y1="138.2" x2="338.5" y2="141.9" stroke="#464646" stroke-width="4.5"/>
<line x1="353.2" y1="136.5" x2="354.9" y2="137.5" stroke="#464646" stroke-width="4"/>
<line x1="353.7" y1="141.9" x2="344.8" y2="145.8" stroke="#6e6e6e" stroke-width="2.6"/>
<line x1="348.3" y1="148.3" x2="346.7" y2="149.4" stroke="#6e6e6e" stroke-width="4.5"/>
<line x1="319.9" y1="144" x2="321.1" y2="143.7" stroke="#646464" stroke-width="3.4"/>
<line x1="327.7" y1="144" x2="330" y2="145.7" stroke="#505050" stroke-width="2.9"/>
<line x1="326.1" y1="148.7" x2="330.6" y2="149" stroke="#3c3c3c" stroke-width="4"/>
<line x1="323.3" y1="146.4" x2="319.7" y2="147.8" stroke="#646464" stroke-width="2.9"/>
<line x1="335" y1="147" x2="334.2" y2="154.3" stroke="#6e6e6e" stroke-width="3.4"/>
<line x1="336.2" y1="153.2" x2="351.8" y2="153.4" stroke="#646464" stroke-width="2.1"/>
<line x1="354.4" y1="151" x2="354.7" y2="157.3" stroke="#505050" stroke-width="3.4"/>
<line x1="323.8" y1="154.4" x2="319.8" y2="157.5" stroke="#6e6e6e" stroke-width="4"/>
<line x1="320" y1="160.5" x2="319.5" y2="172" stroke="#6e6e6e" stroke-width="5.1"/>
<line x1="323.9" y1="159.8" x2="328.7" y2="166.2" stroke="#787878" stroke-width="2.9"/>
<line x1="334.6" y1="158.9" x2="334.1" y2="169.1" stroke="#6e6e6e" stroke-width="4.5"/>
<line x1="340.6" y1="158.2" x2="343.8" y2="162.2" stroke="#464646" stroke-width="5.1"/>
<line x1="350.3" y1="167" x2="340.7" y2="173.1" stroke="#464646" stroke-width="4.5"/>
<line x1="350.6" y1="173.2" x2="352.5" y2="173.9" stroke="#6e6e6e" stroke-width="3.4"/>
<line x1="358.5" y1="170.3" x2="357.7" y2="172.8" stroke="#5a5a5a" stroke-width="4"/>
</g></g>
<clipPath id="cc"><rect x="370.9" y="4.6" width="174" height="173.8"/></clipPath>
<rect x="370.9" y="4.6" width="174" height="173.8" fill="#c4c4c4"/>
<g clip-path="url(#cc)"><g stroke-linecap="round" fill="none" filter="url(#bl)">
<line x1="374.4" y1="9.3" x2="374.4" y2="12.3" stroke="#868686" stroke-width="3.2"/>
<line x1="384.8" y1="11.1" x2="380.2" y2="18.1" stroke="#868686" stroke-width="4.5"/>
<line x1="387.4" y1="14" x2="380.7" y2="30.8" stroke="#545454" stroke-width="1.8"/>
<line x1="390.6" y1="18.6" x2="395.1" y2="29.2" stroke="#5e5e5e" stroke-width="4.3"/>
<line x1="393.6" y1="9.8" x2="393.6" y2="11.3" stroke="#363636" stroke-width="2.9"/>
<line x1="397.2" y1="9" x2="400.1" y2="25.2" stroke="#686868" stroke-width="2.1"/>
<line x1="404.6" y1="7.1" x2="403.8" y2="10.5" stroke="#363636" stroke-width="2.6"/>
<line x1="405.6" y1="19.1" x2="403.3" y2="23.2" stroke="#4a4a4a" stroke-width="4.5"/>
<line x1="410.3" y1="8.7" x2="413.9" y2="13.4" stroke="#9a9a9a" stroke-width="3.4"/>
<line x1="409.6" y1="25.2" x2="413.5" y2="23.2" stroke="#959595" stroke-width="4"/>
<line x1="375.5" y1="22.3" x2="378.9" y2="25.6" stroke="#9a9a9a" stroke-width="3.2"/>
<line x1="375.2" y1="26.4" x2="378.2" y2="34.6" stroke="#868686" stroke-width="2.8"/>
<line x1="385.2" y1="33" x2="388.9" y2="31.5" stroke="#9a9a9a" stroke-width="2.9"/>
<line x1="389.9" y1="37.4" x2="393.8" y2="35.7" stroke="#686868" stroke-width="3.4"/>
<line x1="394" y1="39.2" x2="414" y2="32.4" stroke="#5e5e5e" stroke-width="1.8"/>
<line x1="405.7" y1="30.5" x2="408.3" y2="30.2" stroke="#9a9a9a" stroke-width="4"/>
<line x1="405.6" y1="38.7" x2="411.9" y2="38.4" stroke="#959595" stroke-width="3.4"/>
<line x1="373.3" y1="42.3" x2="376.6" y2="43.9" stroke="#909090" stroke-width="4"/>
<line x1="383.6" y1="41.3" x2="393.3" y2="49.5" stroke="#727272" stroke-width="2.9"/>
<line x1="381.1" y1="42.9" x2="386.8" y2="48.7" stroke="#0e0e0e" stroke-width="3.2"/>
<line x1="389.9" y1="43.3" x2="391.3" y2="44" stroke="#7c7c7c" stroke-width="3.4"/>
<line x1="396.8" y1="45.6" x2="397.4" y2="47.3" stroke="#868686" stroke-width="2.9"/>
<line x1="411" y1="41.8" x2="413.7" y2="43.9" stroke="#868686" stroke-width="3.4"/>
<line x1="415.1" y1="14.1" x2="418.6" y2="14.1" stroke="#727272" stroke-width="2.9"/>
<line x1="424.6" y1="15.9" x2="416.3" y2="22.4" stroke="#7c7c7c" stroke-width="4.5"/>
<line x1="426.5" y1="23.9" x2="416.9" y2="36.6" stroke="#4f4f4f" stroke-width="3.4"/>
<line x1="418.3" y1="24.8" x2="418" y2="27.1" stroke="#5e5e5e" stroke-width="2.4"/>
<line x1="433.8" y1="8.4" x2="437.9" y2="16.7" stroke="#686868" stroke-width="1.9"/>
<line x1="432" y1="13.4" x2="434.7" y2="18.3" stroke="#9a9a9a" stroke-width="3.4"/>
<line x1="441.4" y1="8.9" x2="441.8" y2="16.2" stroke="#5e5e5e" stroke-width="1.7"/>
<line x1="446.7" y1="13.1" x2="449.7" y2="11.6" stroke="#4f4f4f" stroke-width="4.3"/>
<line x1="455.6" y1="11.3" x2="456.5" y2="13.9" stroke="#4a4a4a" stroke-width="2.9"/>
<line x1="435.2" y1="21.1" x2="456.2" y2="19.2" stroke="#686868" stroke-width="2.4"/>
<line x1="431.5" y1="28" x2="437.7" y2="25.4" stroke="#686868" stroke-width="1.6"/>
<line x1="444.3" y1="23.8" x2="456.2" y2="35.7" stroke="#7c7c7c" stroke-width="3.4"/>
<line x1="439.6" y1="31.1" x2="457.4" y2="45.5" stroke="#727272" stroke-width="5.1"/>
<line x1="430.6" y1="33.8" x2="435" y2="41.3" stroke="#727272" stroke-width="4.5"/>
<line x1="426" y1="29.6" x2="425.7" y2="40.9" stroke="#727272" stroke-width="1.8"/>
<line x1="439.1" y1="37.8" x2="439.1" y2="45.9" stroke="#727272" stroke-width="1.8"/>
<line x1="418.3" y1="39.7" x2="417.5" y2="46" stroke="#727272" stroke-width="1.8"/>
<line x1="415.2" y1="45.3" x2="416.6" y2="47.1" stroke="#727272" stroke-width="4.5"/>
<line x1="425.5" y1="45.3" x2="425.7" y2="48.6" stroke="#868686" stroke-width="3.4"/>
<line x1="441.4" y1="44" x2="443.4" y2="47.4" stroke="#363636" stroke-width="2.6"/>
<line x1="444.3" y1="45.5" x2="447.1" y2="46.3" stroke="#727272" stroke-width="2.4"/>
<line x1="457.8" y1="24.6" x2="457.8" y2="32.8" stroke="#727272" stroke-width="1.8"/>
<line x1="479.6" y1="6.5" x2="478.1" y2="8" stroke="#545454" stroke-width="2.9"/>
<line x1="487.2" y1="7.7" x2="489.7" y2="10.9" stroke="#727272" stroke-width="3.4"/>
<line x1="497.8" y1="9.6" x2="496.7" y2="11" stroke="#727272" stroke-width="2.9"/>
<line x1="464" y1="12.3" x2="464" y2="13.9" stroke="#545454" stroke-width="4.5"/>
<line x1="471" y1="12.1" x2="471.5" y2="13.1" stroke="#686868" stroke-width="4.3"/>
<line x1="459.4" y1="16.8" x2="463.5" y2="19.4" stroke="#686868" stroke-width="4.5"/>
<line x1="470.1" y1="18.6" x2="476" y2="21.2" stroke="#595959" stroke-width="4.5"/>
<line x1="480.5" y1="14.8" x2="497.9" y2="17.9" stroke="#727272" stroke-width="3.4"/>
<line x1="480.1" y1="18.7" x2="480.1" y2="21.6" stroke="#545454" stroke-width="2.4"/>
<line x1="467.6" y1="23.4" x2="479" y2="27" stroke="#686868" stroke-width="2.4"/>
<line x1="458.8" y1="21" x2="479.2" y2="37" stroke="#727272" stroke-width="2.1"/>
<line x1="459.4" y1="26.2" x2="459.4" y2="36.2" stroke="#686868" stroke-width="4"/>
<line x1="487.4" y1="23" x2="490" y2="26.4" stroke="#727272" stroke-width="4"/>
<line x1="494.4" y1="27.2" x2="497.6" y2="27.2" stroke="#545454" stroke-width="4.5"/>
<line x1="477.6" y1="31" x2="487.2" y2="30.4" stroke="#686868" stroke-width="2.1"/>
<line x1="492.2" y1="31.7" x2="488.2" y2="35.8" stroke="#363636" stroke-width="2.6"/>
<line x1="503.5" y1="28.5" x2="491.6" y2="40.8" stroke="#595959" stroke-width="5.1"/>
<line x1="464.5" y1="34.2" x2="471.4" y2="36.9" stroke="#686868" stroke-width="4.5"/>
<line x1="462.2" y1="41.2" x2="464.2" y2="43.5" stroke="#727272" stroke-width="4.3"/>
<line x1="476.3" y1="40.9" x2="484.4" y2="41.2" stroke="#868686" stroke-width="4.5"/>
<line x1="471.4" y1="44.9" x2="468.6" y2="47.5" stroke="#404040" stroke-width="2.9"/>
<line x1="478.5" y1="47.1" x2="480.7" y2="47.8" stroke="#727272" stroke-width="3.4"/>
<line x1="500.2" y1="40" x2="497.3" y2="43.7" stroke="#9a9a9a" stroke-width="3.4"/>
<line x1="498.7" y1="46.4" x2="501.5" y2="46.4" stroke="#686868" stroke-width="3.4"/>
<line x1="486.2" y1="45.1" x2="488.1" y2="47.3" stroke="#727272" stroke-width="3.4"/>
<line x1="508.4" y1="6.9" x2="508.1" y2="9.2" stroke="#868686" stroke-width="3.4"/>
<line x1="517.3" y1="8.4" x2="520.3" y2="12.2" stroke="#727272" stroke-width="4.5"/>
<line x1="514.7" y1="9.9" x2="517.8" y2="18.2" stroke="#686868" stroke-width="1.9"/>
<line x1="526.5" y1="12.2" x2="526.2" y2="15.5" stroke="#545454" stroke-width="4.3"/>
<line x1="531.7" y1="7" x2="531.7" y2="13.1" stroke="#727272" stroke-width="2.1"/>
<line x1="539.1" y1="8.5" x2="538.3" y2="14.6" stroke="#7c7c7c" stroke-width="2.1"/>
<line x1="542.5" y1="9.2" x2="541.6" y2="11.4" stroke="#404040" stroke-width="2.8"/>
<line x1="509" y1="15.4" x2="515" y2="31" stroke="#777777" stroke-width="5.1"/>
<line x1="501.6" y1="10.9" x2="506.1" y2="22.3" stroke="#777777" stroke-width="3.7"/>
<line x1="524.2" y1="21" x2="534.1" y2="17.8" stroke="#2c2c2c" stroke-width="2.4"/>
<line x1="530.3" y1="22.5" x2="543.1" y2="18.3" stroke="#545454" stroke-width="2.9"/>
<line x1="521.7" y1="24.7" x2="528" y2="25.2" stroke="#909090" stroke-width="2.4"/>
<line x1="533.4" y1="30.4" x2="538.5" y2="30.4" stroke="#404040" stroke-width="4.5"/>
<line x1="525.7" y1="30" x2="520.5" y2="40.5" stroke="#7c7c7c" stroke-width="3.4"/>
<line x1="511.2" y1="34.3" x2="517.2" y2="54.5" stroke="#727272" stroke-width="2.1"/>
<line x1="506.1" y1="38.2" x2="509.3" y2="42.5" stroke="#7c7c7c" stroke-width="4.3"/>
<line x1="529.4" y1="33.5" x2="530.9" y2="36.6" stroke="#909090" stroke-width="2.9"/>
<line x1="535.7" y1="38.1" x2="537.7" y2="39" stroke="#404040" stroke-width="2.4"/>
<line x1="528.6" y1="41" x2="518.5" y2="48.8" stroke="#636363" stroke-width="4.5"/>
<line x1="536.8" y1="42.8" x2="525" y2="50" stroke="#404040" stroke-width="4"/>
<line x1="503.3" y1="43.5" x2="506.5" y2="45.8" stroke="#404040" stroke-width="4"/>
<line x1="538.4" y1="45.8" x2="539.5" y2="50.1" stroke="#727272" stroke-width="3.4"/>
<line x1="372.4" y1="52" x2="380.5" y2="52" stroke="#363636" stroke-width="1.9"/>
<line x1="376.3" y1="57.5" x2="379.1" y2="55.7" stroke="#7c7c7c" stroke-width="4"/>
<line x1="380.1" y1="58.9" x2="381.9" y2="58.3" stroke="#686868" stroke-width="2.4"/>
<line x1="396.2" y1="52.8" x2="395" y2="54.8" stroke="#131313" stroke-width="3.4"/>
<line x1="390.9" y1="46.7" x2="392.9" y2="49.3" stroke="#7c7c7c" stroke-width="3.4"/>
<line x1="387.4" y1="55.8" x2="388.8" y2="61.4" stroke="#727272" stroke-width="4.5"/>
<line x1="406.6" y1="49.7" x2="398.8" y2="59.4" stroke="#909090" stroke-width="3.4"/>
<line x1="395.4" y1="60.5" x2="390.8" y2="72.8" stroke="#2c2c2c" stroke-width="1.8"/>
<line x1="384.6" y1="64.4" x2="386.4" y2="88.1" stroke="#7c7c7c" stroke-width="5.1"/>
<line x1="377.4" y1="71.7" x2="375.5" y2="75.3" stroke="#727272" stroke-width="4.3"/>
<line x1="382" y1="73.6" x2="381.7" y2="82.4" stroke="#4a4a4a" stroke-width="1.8"/>
<line x1="397.8" y1="63.9" x2="395.5" y2="68.4" stroke="#909090" stroke-width="3.4"/>
<line x1="404.9" y1="65.5" x2="401.5" y2="66.9" stroke="#909090" stroke-width="3.4"/>
<line x1="394.7" y1="73" x2="406.1" y2="68.4" stroke="#727272" stroke-width="2.4"/>
<line x1="402.4" y1="74.8" x2="404.5" y2="73.6" stroke="#909090" stroke-width="2.9"/>
<line x1="392.6" y1="78.4" x2="392.6" y2="81.2" stroke="#4a4a4a" stroke-width="2.4"/>
<line x1="395.3" y1="77.8" x2="396.4" y2="79.3" stroke="#727272" stroke-width="4.5"/>
<line x1="396.6" y1="85.2" x2="409.3" y2="77.9" stroke="#686868" stroke-width="4.3"/>
<line x1="375.3" y1="84.3" x2="380.6" y2="90.4" stroke="#686868" stroke-width="5.1"/>
<line x1="410.3" y1="54.3" x2="413.9" y2="52.3" stroke="#727272" stroke-width="2.4"/>
<line x1="412.8" y1="53.1" x2="412.8" y2="55.5" stroke="#404040" stroke-width="2.4"/>
<line x1="413.2" y1="83.4" x2="413.4" y2="84.2" stroke="#686868" stroke-width="4.5"/>
<line x1="405.7" y1="88.7" x2="410.8" y2="90.1" stroke="#7c7c7c" stroke-width="4"/>
<line x1="391.2" y1="89.3" x2="391.5" y2="91.1" stroke="#868686" stroke-width="3.4"/>
<line x1="401.5" y1="90.8" x2="402.9" y2="91.6" stroke="#727272" stroke-width="3.4"/>
<line x1="416.6" y1="50.9" x2="419.8" y2="52.6" stroke="#181818" stroke-width="2.9"/>
<line x1="432.5" y1="49.6" x2="434.2" y2="52.4" stroke="#545454" stroke-width="2.9"/>
<line x1="439.3" y1="50.5" x2="454.1" y2="50.5" stroke="#777777" stroke-width="4.5"/>
<line x1="445.1" y1="53.8" x2="446.3" y2="56.3" stroke="#5e5e5e" stroke-width="3.4"/>
<line x1="416.9" y1="59.5" x2="439.1" y2="57.2" stroke="#727272" stroke-width="2.1"/>
<line x1="437.2" y1="59.7" x2="440.5" y2="60" stroke="#545454" stroke-width="2.4"/>
<line x1="412.7" y1="63.9" x2="426.2" y2="62.7" stroke="#7c7c7c" stroke-width="5.1"/>
<line x1="431.5" y1="63.1" x2="432.2" y2="65.2" stroke="#868686" stroke-width="4"/>
<line x1="443.8" y1="61.1" x2="436.5" y2="69.2" stroke="#868686" stroke-width="2.6"/>
<line x1="450.6" y1="59.9" x2="457.4" y2="74.4" stroke="#5e5e5e" stroke-width="3.4"/>
<line x1="447.8" y1="63.6" x2="449.6" y2="65.2" stroke="#727272" stroke-width="2.9"/>
<line x1="427.7" y1="68.7" x2="432.4" y2="72.2" stroke="#5e5e5e" stroke-width="3.4"/>
<line x1="411.9" y1="71.7" x2="416.8" y2="71.7" stroke="#404040" stroke-width="2.4"/>
<line x1="438.4" y1="71.7" x2="426.2" y2="89.4" stroke="#5e5e5e" stroke-width="4.5"/>
<line x1="421.9" y1="73.7" x2="424.1" y2="76.8" stroke="#868686" stroke-width="2.4"/>
<line x1="417" y1="77.4" x2="421.9" y2="78.2" stroke="#727272" stroke-width="2.4"/>
<line x1="422.1" y1="80.6" x2="427.9" y2="78" stroke="#727272" stroke-width="2.4"/>
<line x1="446.2" y1="72.2" x2="446.7" y2="86.4" stroke="#686868" stroke-width="2.1"/>
<line x1="443.7" y1="73.2" x2="442.7" y2="83.3" stroke="#868686" stroke-width="1.9"/>
<line x1="452.6" y1="78.7" x2="451.4" y2="80.4" stroke="#727272" stroke-width="4.3"/>
<line x1="415.4" y1="83.4" x2="416.9" y2="84.2" stroke="#686868" stroke-width="4.5"/>
<line x1="422.1" y1="83.9" x2="423.4" y2="99" stroke="#5e5e5e" stroke-width="2.4"/>
<line x1="435.2" y1="84.6" x2="439" y2="89.6" stroke="#7c7c7c" stroke-width="4"/>
<line x1="440.4" y1="83.8" x2="443" y2="83.8" stroke="#868686" stroke-width="2.9"/>
<line x1="452.4" y1="85.4" x2="456.1" y2="90.9" stroke="#686868" stroke-width="5.1"/>
<line x1="458.1" y1="67.9" x2="460.6" y2="74.5" stroke="#131313" stroke-width="2.9"/>
<line x1="444.1" y1="89.1" x2="445.3" y2="91.3" stroke="#727272" stroke-width="2.9"/>
<line x1="459" y1="55.7" x2="467.9" y2="49.4" stroke="#545454" stroke-width="2.9"/>
<line x1="467.8" y1="56.4" x2="479.3" y2="49.7" stroke="#727272" stroke-width="5.6"/>
<line x1="460.8" y1="58.4" x2="470.1" y2="64.9" stroke="#5e5e5e" stroke-width="1.9"/>
<line x1="476.3" y1="59.1" x2="482.4" y2="67.2" stroke="#5e5e5e" stroke-width="4.5"/>
<line x1="473.9" y1="63.6" x2="476.2" y2="64.7" stroke="#727272" stroke-width="4"/>
<line x1="462.3" y1="63.2" x2="462" y2="65.1" stroke="#868686" stroke-width="2.4"/>
<line x1="484.7" y1="58.1" x2="487.1" y2="71.7" stroke="#404040" stroke-width="1.9"/>
<line x1="488.8" y1="53.3" x2="500.7" y2="61.8" stroke="#727272" stroke-width="5.1"/>
<line x1="489.3" y1="60.6" x2="492.1" y2="62.1" stroke="#727272" stroke-width="4.5"/>
<line x1="500.2" y1="52.8" x2="502" y2="57.3" stroke="#727272" stroke-width="3.4"/>
<line x1="493.4" y1="49.4" x2="496" y2="49.1" stroke="#727272" stroke-width="2.9"/>
<line x1="496.1" y1="69.8" x2="502.5" y2="74.4" stroke="#131313" stroke-width="4"/>
<line x1="464.7" y1="70.9" x2="478.3" y2="73.5" stroke="#686868" stroke-width="5.1"/>
<line x1="491.1" y1="72.8" x2="492.8" y2="77.2" stroke="#727272" stroke-width="4.5"/>
<line x1="485.9" y1="73.7" x2="491.4" y2="82.3" stroke="#363636" stroke-width="2.1"/>
<line x1="464.6" y1="77.2" x2="467.9" y2="76.4" stroke="#686868" stroke-width="2.4"/>
<line x1="472" y1="77.8" x2="474" y2="82.3" stroke="#7c7c7c" stroke-width="4.3"/>
<line x1="483.2" y1="77.2" x2="483.5" y2="79.9" stroke="#727272" stroke-width="3.4"/>
<line x1="465.4" y1="79.2" x2="465.1" y2="82.9" stroke="#727272" stroke-width="3.4"/>
<line x1="466.1" y1="90.3" x2="488.1" y2="85.4" stroke="#686868" stroke-width="2.6"/>
<line x1="493.1" y1="85.9" x2="493.8" y2="87.3" stroke="#404040" stroke-width="2.9"/>
<line x1="501.2" y1="80.5" x2="502" y2="79.1" stroke="#727272" stroke-width="3.4"/>
<line x1="492.6" y1="90.6" x2="498.9" y2="91.8" stroke="#727272" stroke-width="3.4"/>
<line x1="500.4" y1="85.5" x2="501.8" y2="86.1" stroke="#404040" stroke-width="2.4"/>
<line x1="532.8" y1="51.9" x2="533.1" y2="54.2" stroke="#7c7c7c" stroke-width="3.4"/>
<line x1="504.3" y1="52.6" x2="503.5" y2="57.5" stroke="#686868" stroke-width="2.4"/>
<line x1="510.1" y1="53.1" x2="508.4" y2="55.5" stroke="#727272" stroke-width="2.9"/>
<line x1="520" y1="57.7" x2="541.9" y2="59" stroke="#363636" stroke-width="3.4"/>
<line x1="503" y1="57.7" x2="514.9" y2="60.5" stroke="#727272" stroke-width="2.6"/>
<line x1="518.6" y1="60.6" x2="519.5" y2="64.2" stroke="#7c7c7c" stroke-width="2.1"/>
<line x1="523.3" y1="63.4" x2="525.4" y2="62.8" stroke="#7c7c7c" stroke-width="2.9"/>
<line x1="528.3" y1="64.5" x2="531.5" y2="63.8" stroke="#545454" stroke-width="2.9"/>
<line x1="539.8" y1="63" x2="540.1" y2="65.3" stroke="#5e5e5e" stroke-width="3.4"/>
<line x1="505.9" y1="62.7" x2="506.4" y2="68.6" stroke="#7c7c7c" stroke-width="2.4"/>
<line x1="514.7" y1="68.9" x2="523.4" y2="67" stroke="#686868" stroke-width="4.5"/>
<line x1="534.4" y1="65.2" x2="527.9" y2="75.8" stroke="#868686" stroke-width="2.4"/>
<line x1="537.3" y1="70.2" x2="539.6" y2="73.7" stroke="#7c7c7c" stroke-width="4.5"/>
<line x1="511.2" y1="68.7" x2="503.7" y2="80.8" stroke="#909090" stroke-width="2.4"/>
<line x1="516.5" y1="74.3" x2="523.6" y2="74.6" stroke="#868686" stroke-width="4"/>
<line x1="508.9" y1="78.8" x2="514.1" y2="84.8" stroke="#727272" stroke-width="2.4"/>
<line x1="515.2" y1="78.8" x2="519.9" y2="85.9" stroke="#727272" stroke-width="4.5"/>
<line x1="524.1" y1="80.1" x2="528.6" y2="79" stroke="#727272" stroke-width="4"/>
<line x1="532.3" y1="80.8" x2="525" y2="89.9" stroke="#868686" stroke-width="2.4"/>
<line x1="536.2" y1="79.2" x2="540.8" y2="87" stroke="#545454" stroke-width="4"/>
<line x1="503.6" y1="86.1" x2="519.4" y2="90.1" stroke="#181818" stroke-width="4.5"/>
<line x1="531.9" y1="87.4" x2="535.5" y2="87.4" stroke="#727272" stroke-width="4.5"/>
<line x1="377.5" y1="96.9" x2="380" y2="96.6" stroke="#5e5e5e" stroke-width="4"/>
<line x1="389.2" y1="93.8" x2="381.9" y2="108.9" stroke="#909090" stroke-width="3.4"/>
<line x1="392.6" y1="102.6" x2="393.6" y2="101.6" stroke="#686868" stroke-width="2.9"/>
<line x1="400.2" y1="94.3" x2="397.1" y2="101.8" stroke="#868686" stroke-width="5.1"/>
<line x1="403.4" y1="98" x2="401" y2="107.7" stroke="#909090" stroke-width="4"/>
<line x1="409.4" y1="95.5" x2="405.1" y2="106.1" stroke="#545454" stroke-width="4"/>
<line x1="413.5" y1="100.9" x2="411.1" y2="107.3" stroke="#545454" stroke-width="3.4"/>
<line x1="377.2" y1="103.6" x2="376.3" y2="107.1" stroke="#545454" stroke-width="4"/>
<line x1="389.8" y1="106.7" x2="394.9" y2="107.5" stroke="#909090" stroke-width="2.9"/>
<line x1="375.1" y1="113.4" x2="384.8" y2="115" stroke="#727272" stroke-width="4.5"/>
<line x1="396.2" y1="112" x2="398.6" y2="111.4" stroke="#404040" stroke-width="2.6"/>
<line x1="392.1" y1="113.5" x2="396.1" y2="114.4" stroke="#727272" stroke-width="4"/>
<line x1="407.8" y1="114" x2="409.7" y2="134.7" stroke="#7c7c7c" stroke-width="5.1"/>
<line x1="400.2" y1="115.3" x2="404.2" y2="123.2" stroke="#727272" stroke-width="4.5"/>
<line x1="374.5" y1="120.5" x2="381.9" y2="125.1" stroke="#545454" stroke-width="5.1"/>
<line x1="393.8" y1="118.7" x2="384.8" y2="135.5" stroke="#9a9a9a" stroke-width="2.4"/>
<line x1="396.6" y1="121.5" x2="400.7" y2="124.6" stroke="#727272" stroke-width="4.5"/>
<line x1="401.3" y1="131.5" x2="398.3" y2="136.4" stroke="#0e0e0e" stroke-width="2.9"/>
<line x1="390.4" y1="133" x2="400.9" y2="147" stroke="#727272" stroke-width="5.1"/>
<line x1="396.4" y1="130" x2="395.8" y2="132.7" stroke="#7c7c7c" stroke-width="2.9"/>
<line x1="415.9" y1="96.5" x2="415.9" y2="107.6" stroke="#727272" stroke-width="2.1"/>
<line x1="430.6" y1="91.7" x2="434.2" y2="92.3" stroke="#686868" stroke-width="4.5"/>
<line x1="427" y1="95.2" x2="431.1" y2="96.8" stroke="#5e5e5e" stroke-width="2.1"/>
<line x1="436.6" y1="97.7" x2="430.5" y2="102.4" stroke="#7c7c7c" stroke-width="4.5"/>
<line x1="439.8" y1="101.2" x2="445" y2="102" stroke="#4a4a4a" stroke-width="2.9"/>
<line x1="443.3" y1="93.7" x2="445.1" y2="95.8" stroke="#727272" stroke-width="3.4"/>
<line x1="449.7" y1="92.7" x2="459.4" y2="99.3" stroke="#727272" stroke-width="4.5"/>
<line x1="423.7" y1="106.9" x2="426.3" y2="106.3" stroke="#545454" stroke-width="4.5"/>
<line x1="424.7" y1="110.1" x2="428.8" y2="109.8" stroke="#5e5e5e" stroke-width="2.6"/>
<line x1="434.7" y1="107.8" x2="442.6" y2="111" stroke="#131313" stroke-width="2.6"/>
<line x1="450.9" y1="103.7" x2="457.7" y2="114.1" stroke="#777777" stroke-width="5.1"/>
<line x1="445.2" y1="106.7" x2="455.3" y2="119.7" stroke="#686868" stroke-width="2.9"/>
<line x1="419.7" y1="104.8" x2="417.6" y2="112.5" stroke="#909090" stroke-width="2.9"/>
<line x1="419.4" y1="114.2" x2="419.4" y2="116.7" stroke="#686868" stroke-width="4"/>
<line x1="433.1" y1="111.8" x2="430" y2="117.6" stroke="#868686" stroke-width="4.5"/>
<line x1="438.7" y1="116.7" x2="436.5" y2="121.3" stroke="#868686" stroke-width="4"/>
<line x1="426.2" y1="120.1" x2="422.8" y2="130.5" stroke="#7c7c7c" stroke-width="3.4"/>
<line x1="417" y1="122" x2="418.3" y2="129.6" stroke="#7c7c7c" stroke-width="2.9"/>
<line x1="444.2" y1="120.9" x2="440.6" y2="128.7" stroke="#5e5e5e" stroke-width="4.5"/>
<line x1="449.8" y1="121.3" x2="444.1" y2="133.4" stroke="#5e5e5e" stroke-width="4"/>
<line x1="453.5" y1="125" x2="459.1" y2="129.8" stroke="#727272" stroke-width="4"/>
<line x1="433.3" y1="131.6" x2="434.4" y2="135.3" stroke="#131313" stroke-width="2.9"/>
<line x1="429.1" y1="128.4" x2="429.4" y2="131.8" stroke="#7c7c7c" stroke-width="2.4"/>
<line x1="423.4" y1="135" x2="429.6" y2="135.3" stroke="#545454" stroke-width="3.4"/>
<line x1="454" y1="132.7" x2="453" y2="135.2" stroke="#868686" stroke-width="3.4"/>
<line x1="414.7" y1="131.1" x2="416.1" y2="135.2" stroke="#727272" stroke-width="3.4"/>
<line x1="458.8" y1="86.6" x2="469.1" y2="103" stroke="#686868" stroke-width="2.9"/>
<line x1="478.7" y1="95.4" x2="495.6" y2="101.2" stroke="#5e5e5e" stroke-width="4.5"/>
<line x1="474.1" y1="99.6" x2="473.4" y2="101.1" stroke="#7c7c7c" stroke-width="4"/>
<line x1="493.8" y1="92.5" x2="497.7" y2="94.5" stroke="#686868" stroke-width="4.5"/>
<line x1="462.2" y1="106.1" x2="465.7" y2="104.1" stroke="#7c7c7c" stroke-width="3.4"/>
<line x1="478.2" y1="102.6" x2="476.5" y2="104.6" stroke="#868686" stroke-width="2.4"/>
<line x1="485.3" y1="102.2" x2="491" y2="107.5" stroke="#909090" stroke-width="3.4"/>
<line x1="467.4" y1="107.8" x2="466.1" y2="116" stroke="#545454" stroke-width="2.6"/>
<line x1="470.7" y1="111.4" x2="475.9" y2="109.5" stroke="#5e5e5e" stroke-width="2.9"/>
<line x1="480.1" y1="107.8" x2="485.2" y2="109" stroke="#545454" stroke-width="4"/>
<line x1="481.1" y1="113.1" x2="480.6" y2="113.8" stroke="#909090" stroke-width="4"/>
<line x1="489.3" y1="108.2" x2="492.1" y2="111.1" stroke="#909090" stroke-width="3.4"/>
<line x1="500.8" y1="108.1" x2="501.3" y2="117.2" stroke="#686868" stroke-width="4"/>
<line x1="459" y1="115.2" x2="461.8" y2="120.3" stroke="#727272" stroke-width="4.5"/>
<line x1="485.7" y1="116.1" x2="498.2" y2="113.8" stroke="#404040" stroke-width="2.6"/>
<line x1="468.7" y1="120" x2="464.2" y2="124.5" stroke="#404040" stroke-width="4.5"/>
<line x1="476.8" y1="117.4" x2="472.3" y2="121.6" stroke="#5e5e5e" stroke-width="4"/>
<line x1="495.2" y1="119.6" x2="491.7" y2="122.4" stroke="#404040" stroke-width="5.1"/>
<line x1="484.1" y1="121.5" x2="486.7" y2="125.1" stroke="#686868" stroke-width="3.4"/>
<line x1="478.9" y1="122.6" x2="482.8" y2="126.5" stroke="#868686" stroke-width="4.5"/>
<line x1="474.5" y1="125.7" x2="483.6" y2="133.5" stroke="#7c7c7c" stroke-width="5.1"/>
<line x1="469.4" y1="124.8" x2="461" y2="131.9" stroke="#4a4a4a" stroke-width="2.9"/>
<line x1="493.2" y1="127.2" x2="492.9" y2="139.6" stroke="#686868" stroke-width="3.4"/>
<line x1="498.8" y1="125.9" x2="500.3" y2="127.7" stroke="#404040" stroke-width="2.9"/>
<line x1="473.4" y1="133.1" x2="473.1" y2="135.3" stroke="#686868" stroke-width="2.6"/>
<line x1="467.1" y1="133.1" x2="467.4" y2="135.3" stroke="#727272" stroke-width="2.6"/>
<line x1="499.6" y1="132.8" x2="501.6" y2="134" stroke="#727272" stroke-width="3.4"/>
<line x1="507" y1="97.6" x2="503.8" y2="105.5" stroke="#686868" stroke-width="4.5"/>
<line x1="514.9" y1="96" x2="512.6" y2="99.6" stroke="#727272" stroke-width="4.5"/>
<line x1="523.1" y1="93.6" x2="519" y2="98.5" stroke="#909090" stroke-width="2.9"/>
<line x1="533.6" y1="94.3" x2="540.4" y2="96.2" stroke="#7c7c7c" stroke-width="3.4"/>
<line x1="540.4" y1="97" x2="540.5" y2="97.1" stroke="#727272" stroke-width="4"/>
<line x1="520.1" y1="103.8" x2="533.7" y2="100.4" stroke="#686868" stroke-width="4"/>
<line x1="528.5" y1="105.4" x2="535.8" y2="103.3" stroke="#909090" stroke-width="3.4"/>
<line x1="520.2" y1="100.9" x2="523.5" y2="99.8" stroke="#727272" stroke-width="2.4"/>
<line x1="515.3" y1="103.8" x2="514.7" y2="105.4" stroke="#686868" stroke-width="2.9"/>
<line x1="542.8" y1="107.1" x2="540.2" y2="109.7" stroke="#545454" stroke-width="2.9"/>
<line x1="510.5" y1="110.8" x2="516.5" y2="114.6" stroke="#727272" stroke-width="4.5"/>
<line x1="523.3" y1="109.8" x2="527.4" y2="110.1" stroke="#727272" stroke-width="4.5"/>
<line x1="531.2" y1="111.8" x2="536.2" y2="112.6" stroke="#686868" stroke-width="4"/>
<line x1="521.3" y1="115.1" x2="523.4" y2="116.3" stroke="#727272" stroke-width="2.9"/>
<line x1="530.8" y1="116.4" x2="528.5" y2="120.6" stroke="#686868" stroke-width="2.9"/>
<line x1="538.2" y1="118.1" x2="540.3" y2="119.9" stroke="#868686" stroke-width="5.1"/>
<line x1="512" y1="119.3" x2="514" y2="124.2" stroke="#727272" stroke-width="4.5"/>
<line x1="507.1" y1="119.4" x2="510.3" y2="129.1" stroke="#727272" stroke-width="2.9"/>
<line x1="520.6" y1="118" x2="520.6" y2="121.5" stroke="#727272" stroke-width="2.9"/>
<line x1="534.1" y1="121.9" x2="527.2" y2="129.2" stroke="#0e0e0e" stroke-width="3.2"/>
<line x1="525.4" y1="122.5" x2="523.3" y2="133.2" stroke="#7c7c7c" stroke-width="2.9"/>
<line x1="521" y1="126.2" x2="517.1" y2="131.5" stroke="#868686" stroke-width="4"/>
<line x1="503.6" y1="122.2" x2="504.2" y2="124.4" stroke="#727272" stroke-width="3.4"/>
<line x1="506.4" y1="128.9" x2="503.9" y2="131.8" stroke="#727272" stroke-width="2.9"/>
<line x1="536.7" y1="126" x2="536.7" y2="128.6" stroke="#5e5e5e" stroke-width="2.9"/>
<line x1="540.4" y1="130" x2="539.5" y2="132.7" stroke="#727272" stroke-width="2.9"/>
<line x1="512.8" y1="132" x2="513.2" y2="131.8" stroke="#5e5e5e" stroke-width="3.4"/>
<line x1="530.9" y1="133.4" x2="532" y2="140" stroke="#868686" stroke-width="4"/>
<line x1="373.8" y1="137.6" x2="373" y2="138.4" stroke="#7c7c7c" stroke-width="3.4"/>
<line x1="375.8" y1="142.6" x2="382.1" y2="142.6" stroke="#7c7c7c" stroke-width="5.1"/>
<line x1="381.1" y1="136.6" x2="381.9" y2="137.4" stroke="#868686" stroke-width="3.4"/>
<line x1="385.9" y1="148.1" x2="385.6" y2="151.1" stroke="#131313" stroke-width="4"/>
<line x1="387.8" y1="138.7" x2="390.4" y2="148.4" stroke="#5e5e5e" stroke-width="2.9"/>
<line x1="374.8" y1="149" x2="373.5" y2="151.2" stroke="#727272" stroke-width="4"/>
<line x1="382.1" y1="149.7" x2="383.9" y2="161.1" stroke="#5e5e5e" stroke-width="2.4"/>
<line x1="392.7" y1="152.5" x2="410.2" y2="165.4" stroke="#5e5e5e" stroke-width="2.9"/>
<line x1="386.9" y1="157.5" x2="397.8" y2="160.9" stroke="#909090" stroke-width="3.4"/>
<line x1="399.6" y1="154" x2="403.3" y2="153.4" stroke="#727272" stroke-width="3.4"/>
<line x1="405.6" y1="139.6" x2="407.8" y2="139.9" stroke="#5e5e5e" stroke-width="3.4"/>
<line x1="405.4" y1="144.1" x2="405.5" y2="145.1" stroke="#9a9a9a" stroke-width="4"/>
<line x1="406.3" y1="149" x2="407.6" y2="156.8" stroke="#5e5e5e" stroke-width="3.4"/>
<line x1="411.1" y1="147.4" x2="412" y2="144.8" stroke="#7c7c7c" stroke-width="2.9"/>
<line x1="412.3" y1="154.5" x2="413.9" y2="158.9" stroke="#727272" stroke-width="5.1"/>
<line x1="376.7" y1="159.6" x2="379.8" y2="159.3" stroke="#7c7c7c" stroke-width="2.9"/>
<line x1="377.6" y1="164.3" x2="378.4" y2="170.8" stroke="#5e5e5e" stroke-width="2.1"/>
<line x1="390.6" y1="167.1" x2="396.1" y2="166" stroke="#727272" stroke-width="4"/>
<line x1="386.5" y1="168.9" x2="383.1" y2="170.7" stroke="#5e5e5e" stroke-width="4.5"/>
<line x1="374.4" y1="171.9" x2="374.9" y2="172.7" stroke="#7c7c7c" stroke-width="4.5"/>
<line x1="399.5" y1="169" x2="400.4" y2="172.1" stroke="#727272" stroke-width="4.5"/>
<line x1="396.5" y1="169.9" x2="399.8" y2="174.8" stroke="#868686" stroke-width="2.9"/>
<line x1="406.9" y1="169.6" x2="407.5" y2="174.1" stroke="#868686" stroke-width="5.1"/>
<line x1="411.7" y1="169.1" x2="413.5" y2="168.5" stroke="#727272" stroke-width="3.4"/>
<line x1="416.9" y1="138.9" x2="417.4" y2="150.2" stroke="#7c7c7c" stroke-width="3.4"/>
<line x1="424.2" y1="138.6" x2="427.3" y2="146.5" stroke="#868686" stroke-width="2.6"/>
<line x1="427" y1="138.8" x2="435.6" y2="143.3" stroke="#686868" stroke-width="2.4"/>
<line x1="424.2" y1="144.8" x2="426.3" y2="152.5" stroke="#5e5e5e" stroke-width="2.9"/>
<line x1="438.2" y1="144.9" x2="437.5" y2="146.3" stroke="#545454" stroke-width="3.4"/>
<line x1="443.3" y1="142.2" x2="439" y2="149.5" stroke="#545454" stroke-width="2.9"/>
<line x1="440.4" y1="136.6" x2="442.9" y2="138.4" stroke="#686868" stroke-width="4"/>
<line x1="451.3" y1="139" x2="446.1" y2="152.2" stroke="#868686" stroke-width="4"/>
<line x1="454.3" y1="136.7" x2="451.2" y2="141.4" stroke="#909090" stroke-width="3.4"/>
<line x1="432.7" y1="146.2" x2="425.9" y2="164.2" stroke="#7c7c7c" stroke-width="4.5"/>
<line x1="436.2" y1="151.9" x2="427.4" y2="171.5" stroke="#868686" stroke-width="3.4"/>
<line x1="420.5" y1="154.6" x2="420.5" y2="157.8" stroke="#868686" stroke-width="3.4"/>
<line x1="440.7" y1="155.7" x2="439" y2="159.2" stroke="#545454" stroke-width="4"/>
<line x1="452.9" y1="151.6" x2="437.5" y2="169.3" stroke="#404040" stroke-width="5.1"/>
<line x1="457.6" y1="154.1" x2="452.5" y2="159.3" stroke="#686868" stroke-width="4.5"/>
<line x1="415.1" y1="158.3" x2="421.8" y2="169.2" stroke="#727272" stroke-width="5.1"/>
<line x1="446" y1="166.1" x2="444.9" y2="167.5" stroke="#909090" stroke-width="4"/>
<line x1="452.4" y1="166.3" x2="457.7" y2="169.8" stroke="#131313" stroke-width="3.4"/>
<line x1="433.2" y1="172.1" x2="434.5" y2="173" stroke="#7c7c7c" stroke-width="5.1"/>
<line x1="440.8" y1="173.4" x2="444.5" y2="174.2" stroke="#686868" stroke-width="2.9"/>
<line x1="421.5" y1="173.8" x2="418.9" y2="176.4" stroke="#545454" stroke-width="2.9"/>
<line x1="459.4" y1="138.7" x2="461.4" y2="140.3" stroke="#727272" stroke-width="4.5"/>
<line x1="468.2" y1="136.9" x2="470.3" y2="146.2" stroke="#727272" stroke-width="3.4"/>
<line x1="463.3" y1="146.8" x2="463" y2="149.9" stroke="#686868" stroke-width="4.5"/>
<line x1="475" y1="142.2" x2="490.7" y2="144" stroke="#727272" stroke-width="4"/>
<line x1="496.7" y1="138.9" x2="496.7" y2="141.2" stroke="#868686" stroke-width="3.4"/>
<line x1="475.3" y1="149.8" x2="462.2" y2="162" stroke="#545454" stroke-width="4"/>
<line x1="483.9" y1="151.3" x2="501.6" y2="143.9" stroke="#686868" stroke-width="3.4"/>
<line x1="477.6" y1="154.9" x2="476.1" y2="158.5" stroke="#5e5e5e" stroke-width="5.1"/>
<line x1="491.8" y1="153.5" x2="477" y2="166" stroke="#363636" stroke-width="2.1"/>
<line x1="497" y1="151.8" x2="490.5" y2="169.6" stroke="#686868" stroke-width="2.9"/>
<line x1="468.7" y1="161" x2="473.8" y2="162.9" stroke="#404040" stroke-width="2.9"/>
<line x1="491.5" y1="157.9" x2="490.9" y2="159.5" stroke="#545454" stroke-width="2.9"/>
<line x1="485.9" y1="163.2" x2="486.9" y2="167.3" stroke="#686868" stroke-width="4"/>
<line x1="472.4" y1="166.4" x2="475.2" y2="168.2" stroke="#909090" stroke-width="4"/>
<line x1="465" y1="169" x2="471" y2="173.1" stroke="#5e5e5e" stroke-width="4.5"/>
<line x1="473.2" y1="170.9" x2="477.9" y2="174.8" stroke="#5e5e5e" stroke-width="3.4"/>
<line x1="480.3" y1="168.3" x2="480.9" y2="171.8" stroke="#5e5e5e" stroke-width="4"/>
<line x1="491.7" y1="172.9" x2="491.7" y2="176.8" stroke="#5e5e5e" stroke-width="2.4"/>
<line x1="495" y1="174" x2="495.9" y2="176.7" stroke="#686868" stroke-width="2.9"/>
<line x1="500.5" y1="158.7" x2="501.7" y2="157.7" stroke="#7c7c7c" stroke-width="3.4"/>
<line x1="500.9" y1="163.5" x2="501.2" y2="171" stroke="#7c7c7c" stroke-width="5.1"/>
<line x1="503.6" y1="138.2" x2="521.9" y2="141.9" stroke="#4a4a4a" stroke-width="4.5"/>
<line x1="536.6" y1="136.5" x2="538.3" y2="137.5" stroke="#4a4a4a" stroke-width="4"/>
<line x1="537.1" y1="141.9" x2="528.2" y2="145.8" stroke="#727272" stroke-width="2.6"/>
<line x1="531.7" y1="148.3" x2="530.1" y2="149.4" stroke="#727272" stroke-width="4.5"/>
<line x1="503.3" y1="144" x2="504.5" y2="143.7" stroke="#686868" stroke-width="3.4"/>
<line x1="511.1" y1="144" x2="513.4" y2="145.7" stroke="#545454" stroke-width="2.9"/>
<line x1="509.5" y1="148.7" x2="514" y2="149" stroke="#404040" stroke-width="4"/>
<line x1="506.7" y1="146.4" x2="503.1" y2="147.8" stroke="#686868" stroke-width="2.9"/>
<line x1="518.4" y1="147" x2="517.6" y2="154.3" stroke="#727272" stroke-width="3.4"/>
<line x1="519.6" y1="153.2" x2="535.2" y2="153.4" stroke="#686868" stroke-width="2.1"/>
<line x1="537.8" y1="151" x2="538.1" y2="157.3" stroke="#545454" stroke-width="3.4"/>
<line x1="507.2" y1="154.4" x2="503.2" y2="157.5" stroke="#727272" stroke-width="4"/>
<line x1="503.4" y1="160.5" x2="502.9" y2="172" stroke="#727272" stroke-width="5.1"/>
<line x1="507.3" y1="159.8" x2="512.1" y2="166.2" stroke="#7c7c7c" stroke-width="2.9"/>
<line x1="518" y1="158.9" x2="517.5" y2="169.1" stroke="#727272" stroke-width="4.5"/>
<line x1="524" y1="158.2" x2="527.2" y2="162.2" stroke="#4a4a4a" stroke-width="5.1"/>
<line x1="533.7" y1="167" x2="524.1" y2="173.1" stroke="#4a4a4a" stroke-width="4.5"/>
<line x1="534" y1="173.2" x2="535.9" y2="173.9" stroke="#727272" stroke-width="3.4"/>
<line x1="541.9" y1="170.3" x2="541.1" y2="172.8" stroke="#5e5e5e" stroke-width="4"/>
</g></g>
<text class="cap" x="50.9" y="197.2" textLength="12" lengthAdjust="spacingAndGlyphs">(<tspan font-weight="bold">a</tspan>)</text>
<text class="cap" x="66" y="197.2" textLength="37.4" lengthAdjust="spacingAndGlyphs">Ground</text>
<text class="cap" x="108" y="197.2" textLength="23.4" lengthAdjust="spacingAndGlyphs">truth</text>
<text class="cap" x="214" y="197.2" textLength="13.1" lengthAdjust="spacingAndGlyphs">(<tspan font-weight="bold">b</tspan>)</text>
<text class="cap" x="230.5" y="197.2" textLength="39.6" lengthAdjust="spacingAndGlyphs">DRMSD</text>
<text class="cap" x="274" y="197.2" textLength="60.6" lengthAdjust="spacingAndGlyphs">compression</text>
<text class="cap" x="397" y="197.2" textLength="11.6" lengthAdjust="spacingAndGlyphs">(<tspan font-weight="bold">c</tspan>)</text>
<text class="cap" x="412.1" y="197.2" textLength="41.5" lengthAdjust="spacingAndGlyphs">DRUNet</text>
<text class="cap" x="457.2" y="197.2" textLength="61.5" lengthAdjust="spacingAndGlyphs">compression</text>
<text class="cap" x="8.9" y="429.2" textLength="12.8" lengthAdjust="spacingAndGlyphs">(<tspan font-weight="bold">d</tspan>)</text>
<text class="cap" x="25.8" y="429.2" textLength="21.5" lengthAdjust="spacingAndGlyphs">Data</text>
<text class="cap" x="50.8" y="429.2" textLength="44.8" lengthAdjust="spacingAndGlyphs">reduction</text>
<text class="cap" x="99.3" y="429.2" textLength="37.5" lengthAdjust="spacingAndGlyphs">weights</text>
<text class="cap" x="140" y="429.2" textLength="21.3" lengthAdjust="spacingAndGlyphs">after</text>
<text class="cap" x="165.2" y="429.2" textLength="36.7" lengthAdjust="spacingAndGlyphs">training</text>
<text class="cap" x="205.8" y="429.2" textLength="20.7" lengthAdjust="spacingAndGlyphs">with</text>
<text class="cap" x="230.1" y="429.2" textLength="39.7" lengthAdjust="spacingAndGlyphs">DRMSD</text>
<text class="cap" x="278.9" y="429.2" textLength="12.8" lengthAdjust="spacingAndGlyphs">(<tspan font-weight="bold">e</tspan>)</text>
<text class="cap" x="295.8" y="429.2" textLength="21.5" lengthAdjust="spacingAndGlyphs">Data</text>
<text class="cap" x="320.8" y="429.2" textLength="44.8" lengthAdjust="spacingAndGlyphs">reduction</text>
<text class="cap" x="369.3" y="429.2" textLength="37.5" lengthAdjust="spacingAndGlyphs">weights</text>
<text class="cap" x="410" y="429.2" textLength="21.3" lengthAdjust="spacingAndGlyphs">after</text>
<text class="cap" x="435.2" y="429.2" textLength="36.7" lengthAdjust="spacingAndGlyphs">training</text>
<text class="cap" x="475.8" y="429.2" textLength="20.7" lengthAdjust="spacingAndGlyphs">with</text>
<text class="cap" x="500.1" y="429.2" textLength="39.7" lengthAdjust="spacingAndGlyphs">DRUNet</text>
<text class="mpl" x="59.9" y="231.2" font-size="7.2" textLength="170.2" lengthAdjust="spacingAndGlyphs">Output weight values per spectral bin for DRMSD</text>
<polyline fill="none" stroke="#1f77b4" stroke-width="1.3" stroke-linejoin="round" points="42.3,348.5 43,335 43.4,326 44.2,321.5 45,317 45.5,309.3 45.9,303.8 47.2,301.7 48,297.8 48.5,301 48.9,303 49.9,312 50.4,330 51.6,352 52.5,366.5 53.6,371.4 54.4,381.8 55.7,373 56.9,361.7 58,344.1 58.9,328 60,303.8 60.6,294.1 61.3,290 62,284 63.1,278 64.5,259.5 66.6,241.6 68.2,288 68.5,290 69.4,295.5 70.3,304.7 71.2,311.1 72.3,316.6 73,319.4 73.7,314.8 74.4,308.3 74.9,302.8 75.4,301.9 76,303.8 76.9,303.3 77.8,304.7 78.8,306.1 79.7,303.8 80.4,306.1 81.1,303.3 81.5,310.2 82.2,303.3 82.9,309.7 83.6,314.8 84.3,307.4 85,313.9 85.9,317.5 86.6,313.9 87.5,317.5 88.4,323.9 89,317.5 89.6,312 90.2,315.7 91.1,317.5 92.1,316.6 93,318.9 93.9,322.6 94.5,321.2 95.3,313.9 96.2,312.9 97.1,315.2 98,317.5 98.9,320.3 99.9,323 100.6,326.7 101.2,326.2 101.7,326.7 102.6,327.2 103.5,329.4 104.6,334.7 106.7,335.4 108.1,336.1 109.4,333.3 110.4,332.7 111.1,342.3 111.8,335.4 113.2,324.4 114.3,320.3 115.6,319.6 117,323 118.1,324.4 119.1,327.2 120.5,334 121.6,338.9 122.5,336.1 123.5,331.3 124.6,332.7 125.5,326.5 126.4,331.3 127.5,327.2 128.4,331.3 129.1,325.8 130.1,331.3 131.1,329.2 132.2,325.8 133.3,323.7 133.9,317.5 134.9,321.6 135.7,314.8 137,305.1 138.1,296.6 139.7,296.9 143.9,296.9 145.2,295.5 146.6,293.4 147.6,290.3 148.6,284.1 149.3,279.5 150,284.1 150.4,288.2 151.3,284.1 152,282.7 153.1,286.1 154.1,293 155,299.2 155.9,300.6 156.6,299.2 157.5,302.7 158.4,309.6 159.8,311.7 161.2,321.3 161.9,322 162.6,312.4 163.5,319.3 164.6,324.1 166,325.5 167.1,322.7 168.8,329.6 170.1,324.8 171.5,331 172.9,333 174.3,333.7 175.4,335.8 176.3,344.7 177.3,339.2 178.1,344.7 179.1,339.2 180.5,336.5 181.8,333.7 183.2,328.2 184.2,320.6 185,311 185.5,302.8 186.1,297.8 187.8,296.9 190,296.9 199.6,296.8 201.3,295 202.4,290.9 203.1,281.3 203.8,264.8 204.4,253.8 205.1,247.6 205.8,253.8 206.5,267.5 206.9,281.3 207.6,292.3 208.3,290.9 209.3,281.3 210.2,276.5 210.9,279.9 211.7,288.2 212.7,290.2 213.8,291.9 214.9,295.9 216.1,301.1 217.2,306.8 218.1,304.5 218.9,307.9 220.1,312 221.2,315.4 222.4,317.1 223.5,317.1 224.3,314.2 225.2,318.3 226.1,320 226.9,318.3 228.1,319.4 228.9,321.1 229.8,318.8 231,319.4 232.1,320 233,313.7 233.8,312.5 235,308.5 236.1,307.4 237.3,307.9 238.4,307.4 239.6,304.5 240.7,299.9 241.9,296.5 243,295.3 244.2,294.7 245.3,293 246.4,290.7 247.6,291.9 248.4,290.2"/>
<rect x="42.2" y="234.8" width="206.4" height="154" fill="none" stroke="#6a6a6a" stroke-width="1.1"/>
<line x1="42.2" y1="388.8" x2="42.2" y2="391.3" stroke="#6a6a6a" stroke-width="1"/>
<text class="mpl" x="42.2" y="398.1" font-size="6.3" text-anchor="middle">0</text>
<line x1="68" y1="388.8" x2="68" y2="391.3" stroke="#6a6a6a" stroke-width="1"/>
<text class="mpl" x="68" y="398.1" font-size="6.3" text-anchor="middle">25</text>
<line x1="93.8" y1="388.8" x2="93.8" y2="391.3" stroke="#6a6a6a" stroke-width="1"/>
<text class="mpl" x="93.8" y="398.1" font-size="6.3" text-anchor="middle">50</text>
<line x1="119.7" y1="388.8" x2="119.7" y2="391.3" stroke="#6a6a6a" stroke-width="1"/>
<text class="mpl" x="119.7" y="398.1" font-size="6.3" text-anchor="middle">75</text>
<line x1="145.5" y1="388.8" x2="145.5" y2="391.3" stroke="#6a6a6a" stroke-width="1"/>
<text class="mpl" x="145.5" y="398.1" font-size="6.3" text-anchor="middle">100</text>
<line x1="171.3" y1="388.8" x2="171.3" y2="391.3" stroke="#6a6a6a" stroke-width="1"/>
<text class="mpl" x="171.3" y="398.1" font-size="6.3" text-anchor="middle">125</text>
<line x1="197.1" y1="388.8" x2="197.1" y2="391.3" stroke="#6a6a6a" stroke-width="1"/>
<text class="mpl" x="197.1" y="398.1" font-size="6.3" text-anchor="middle">150</text>
<line x1="223" y1="388.8" x2="223" y2="391.3" stroke="#6a6a6a" stroke-width="1"/>
<text class="mpl" x="223" y="398.1" font-size="6.3" text-anchor="middle">175</text>
<line x1="248.8" y1="388.8" x2="248.8" y2="391.3" stroke="#6a6a6a" stroke-width="1"/>
<text class="mpl" x="248.8" y="398.1" font-size="6.3" text-anchor="middle">200</text>
<line x1="39.7" y1="238.7" x2="42.2" y2="238.7" stroke="#6a6a6a" stroke-width="1"/>
<text class="mpl" x="38.6" y="241.6" font-size="6.3" text-anchor="end">1.5</text>
<line x1="39.7" y1="258.2" x2="42.2" y2="258.2" stroke="#6a6a6a" stroke-width="1"/>
<text class="mpl" x="38.6" y="261.1" font-size="6.3" text-anchor="end">1.0</text>
<line x1="39.7" y1="277.7" x2="42.2" y2="277.7" stroke="#6a6a6a" stroke-width="1"/>
<text class="mpl" x="38.6" y="280.6" font-size="6.3" text-anchor="end">0.5</text>
<line x1="39.7" y1="297.2" x2="42.2" y2="297.2" stroke="#6a6a6a" stroke-width="1"/>
<text class="mpl" x="38.6" y="300.1" font-size="6.3" text-anchor="end">0.0</text>
<line x1="39.7" y1="316.8" x2="42.2" y2="316.8" stroke="#6a6a6a" stroke-width="1"/>
<text class="mpl" x="38.6" y="319.7" font-size="6.3" text-anchor="end">−0.5</text>
<line x1="39.7" y1="336.3" x2="42.2" y2="336.3" stroke="#6a6a6a" stroke-width="1"/>
<text class="mpl" x="38.6" y="339.2" font-size="6.3" text-anchor="end">−1.0</text>
<line x1="39.7" y1="355.8" x2="42.2" y2="355.8" stroke="#6a6a6a" stroke-width="1"/>
<text class="mpl" x="38.6" y="358.7" font-size="6.3" text-anchor="end">−1.5</text>
<line x1="39.7" y1="375.3" x2="42.2" y2="375.3" stroke="#6a6a6a" stroke-width="1"/>
<text class="mpl" x="38.6" y="378.2" font-size="6.3" text-anchor="end">−2.0</text>
<text class="mpl" x="128.4" y="405.9" font-size="6.1" textLength="34" lengthAdjust="spacingAndGlyphs">Spectral bin</text>
<text class="mpl" x="20.6" y="312.8" font-size="6.3" text-anchor="middle" transform="rotate(-90 20.6 312.8)">Output weight</text>
<text class="mpl" x="330" y="231.2" font-size="7.2" textLength="171.8" lengthAdjust="spacingAndGlyphs">Output weight values per spectral bin for DRUNet</text>
<polyline fill="none" stroke="#1f77b4" stroke-width="1.3" stroke-linejoin="round" points="312.4,376 312.8,365 313.2,355.8 314.6,343.4 316,333.8 316.7,332.5 317.7,334.4 318.8,342 320.1,355.8 321.5,368.2 322.9,376.1 324.3,376.9 325.4,374.4 327,364 328.7,351.6 330.5,336.5 331.8,324.1 333.1,305.5 334.2,285 335.2,268.8 336.2,268.6 336.8,290 337.2,308.3 337.9,327.5 338.6,344 339.2,346.8 339.7,334.4 340.5,322 341.6,315.8 343,314.2 344.4,314.4 346.5,315.8 348.5,317.2 350.6,318.6 352.7,319.3 354.7,318.2 356.8,316.8 358.9,316.2 360.9,315.5 362.3,314.9 363.4,315.8 364.4,314.4 365.3,315.5 366.1,313.2 367.1,316 368.4,316.5 370.5,315.8 372.6,315.5 374.6,315.1 376.7,316.1 378.8,317.2 380.4,317.8 382.2,316.5 383.6,315.1 384.5,316.1 385.6,317.8 386.7,318.3 387.7,315.1 389.1,309.6 390.5,306.8 391.8,305.9 393.9,304.8 396,304.1 398,304.1 400.1,303.4 401.5,303.7 402.8,305.5 404.2,308.2 405.6,311 406.3,309.6 407,302 407.7,297.6 409.7,297.6 413.2,297.6 415.2,298.2 416.2,300.6 417,304.8 417.7,311.6 418.4,320 418.9,321.5 419.4,316.1 420.2,321.7 421.6,322.8 423.3,321 425.3,318.9 427.4,317.5 429.4,316.1 431.2,317.5 432.9,314.1 435,310 437,305.1 438.4,303.8 439.8,306.8 441.1,303.8 442.5,301 444.2,298.9 445.5,301 446.9,303.8 448.7,303.8 450.5,304.4 452.2,305.4 453.8,306.5 454.9,301 456,298.5 457.7,297.6 463.2,297.6 468,297.6 470,296.9 471.4,294.1 472.2,284 472.7,274.8 473.7,265.1 474.4,263.1 475,265.1 475.7,274.8 476.4,288.5 477,294 477.6,292.7 478.3,287.9 479.2,285.8 480.3,289.3 481.7,296.1 483.1,303 484.4,311.3 485.8,319.5 487.2,324.4 488.6,326.4 490,327.8 491.3,328.1 492.7,325.7 494.1,323.7 495.5,324.8 496.8,323 498.2,321.6 499.6,321.2 501,321.6 502.3,322.6 504.1,325 505.5,320.9 506.9,315.4 507.8,312 508.8,313.8 509.9,310.6 511.3,308.5 512.7,305.8 514,303.7 515.4,301 516.8,300 517.5,300.5 518.2,297.5 519,295.9"/>
<rect x="312.4" y="234.9" width="206.9" height="153.9" fill="none" stroke="#6a6a6a" stroke-width="1.1"/>
<line x1="312.4" y1="388.8" x2="312.4" y2="391.3" stroke="#6a6a6a" stroke-width="1"/>
<text class="mpl" x="312.4" y="398.1" font-size="6.3" text-anchor="middle">0</text>
<line x1="338.3" y1="388.8" x2="338.3" y2="391.3" stroke="#6a6a6a" stroke-width="1"/>
<text class="mpl" x="338.3" y="398.1" font-size="6.3" text-anchor="middle">25</text>
<line x1="364.1" y1="388.8" x2="364.1" y2="391.3" stroke="#6a6a6a" stroke-width="1"/>
<text class="mpl" x="364.1" y="398.1" font-size="6.3" text-anchor="middle">50</text>
<line x1="390" y1="388.8" x2="390" y2="391.3" stroke="#6a6a6a" stroke-width="1"/>
<text class="mpl" x="390" y="398.1" font-size="6.3" text-anchor="middle">75</text>
<line x1="415.8" y1="388.8" x2="415.8" y2="391.3" stroke="#6a6a6a" stroke-width="1"/>
<text class="mpl" x="415.8" y="398.1" font-size="6.3" text-anchor="middle">100</text>
<line x1="441.7" y1="388.8" x2="441.7" y2="391.3" stroke="#6a6a6a" stroke-width="1"/>
<text class="mpl" x="441.7" y="398.1" font-size="6.3" text-anchor="middle">125</text>
<line x1="467.6" y1="388.8" x2="467.6" y2="391.3" stroke="#6a6a6a" stroke-width="1"/>
<text class="mpl" x="467.6" y="398.1" font-size="6.3" text-anchor="middle">150</text>
<line x1="493.4" y1="388.8" x2="493.4" y2="391.3" stroke="#6a6a6a" stroke-width="1"/>
<text class="mpl" x="493.4" y="398.1" font-size="6.3" text-anchor="middle">175</text>
<line x1="519.3" y1="388.8" x2="519.3" y2="391.3" stroke="#6a6a6a" stroke-width="1"/>
<text class="mpl" x="519.3" y="398.1" font-size="6.3" text-anchor="middle">200</text>
<line x1="309.9" y1="238.6" x2="312.4" y2="238.6" stroke="#6a6a6a" stroke-width="1"/>
<text class="mpl" x="308.8" y="241.5" font-size="6.3" text-anchor="end">1.5</text>
<line x1="309.9" y1="258.4" x2="312.4" y2="258.4" stroke="#6a6a6a" stroke-width="1"/>
<text class="mpl" x="308.8" y="261.3" font-size="6.3" text-anchor="end">1.0</text>
<line x1="309.9" y1="278.2" x2="312.4" y2="278.2" stroke="#6a6a6a" stroke-width="1"/>
<text class="mpl" x="308.8" y="281.1" font-size="6.3" text-anchor="end">0.5</text>
<line x1="309.9" y1="298" x2="312.4" y2="298" stroke="#6a6a6a" stroke-width="1"/>
<text class="mpl" x="308.8" y="300.9" font-size="6.3" text-anchor="end">0.0</text>
<line x1="309.9" y1="317.9" x2="312.4" y2="317.9" stroke="#6a6a6a" stroke-width="1"/>
<text class="mpl" x="308.8" y="320.8" font-size="6.3" text-anchor="end">−0.5</text>
<line x1="309.9" y1="337.7" x2="312.4" y2="337.7" stroke="#6a6a6a" stroke-width="1"/>
<text class="mpl" x="308.8" y="340.6" font-size="6.3" text-anchor="end">−1.0</text>
<line x1="309.9" y1="357.5" x2="312.4" y2="357.5" stroke="#6a6a6a" stroke-width="1"/>
<text class="mpl" x="308.8" y="360.4" font-size="6.3" text-anchor="end">−1.5</text>
<line x1="309.9" y1="377.3" x2="312.4" y2="377.3" stroke="#6a6a6a" stroke-width="1"/>
<text class="mpl" x="308.8" y="380.2" font-size="6.3" text-anchor="end">−2.0</text>
<text class="mpl" x="398.8" y="405.9" font-size="6.1" textLength="34" lengthAdjust="spacingAndGlyphs">Spectral bin</text>
<text class="mpl" x="290.8" y="312.9" font-size="6.3" text-anchor="middle" transform="rotate(-90 290.8 312.9)">Output weight</text>
</svg></body></html>
